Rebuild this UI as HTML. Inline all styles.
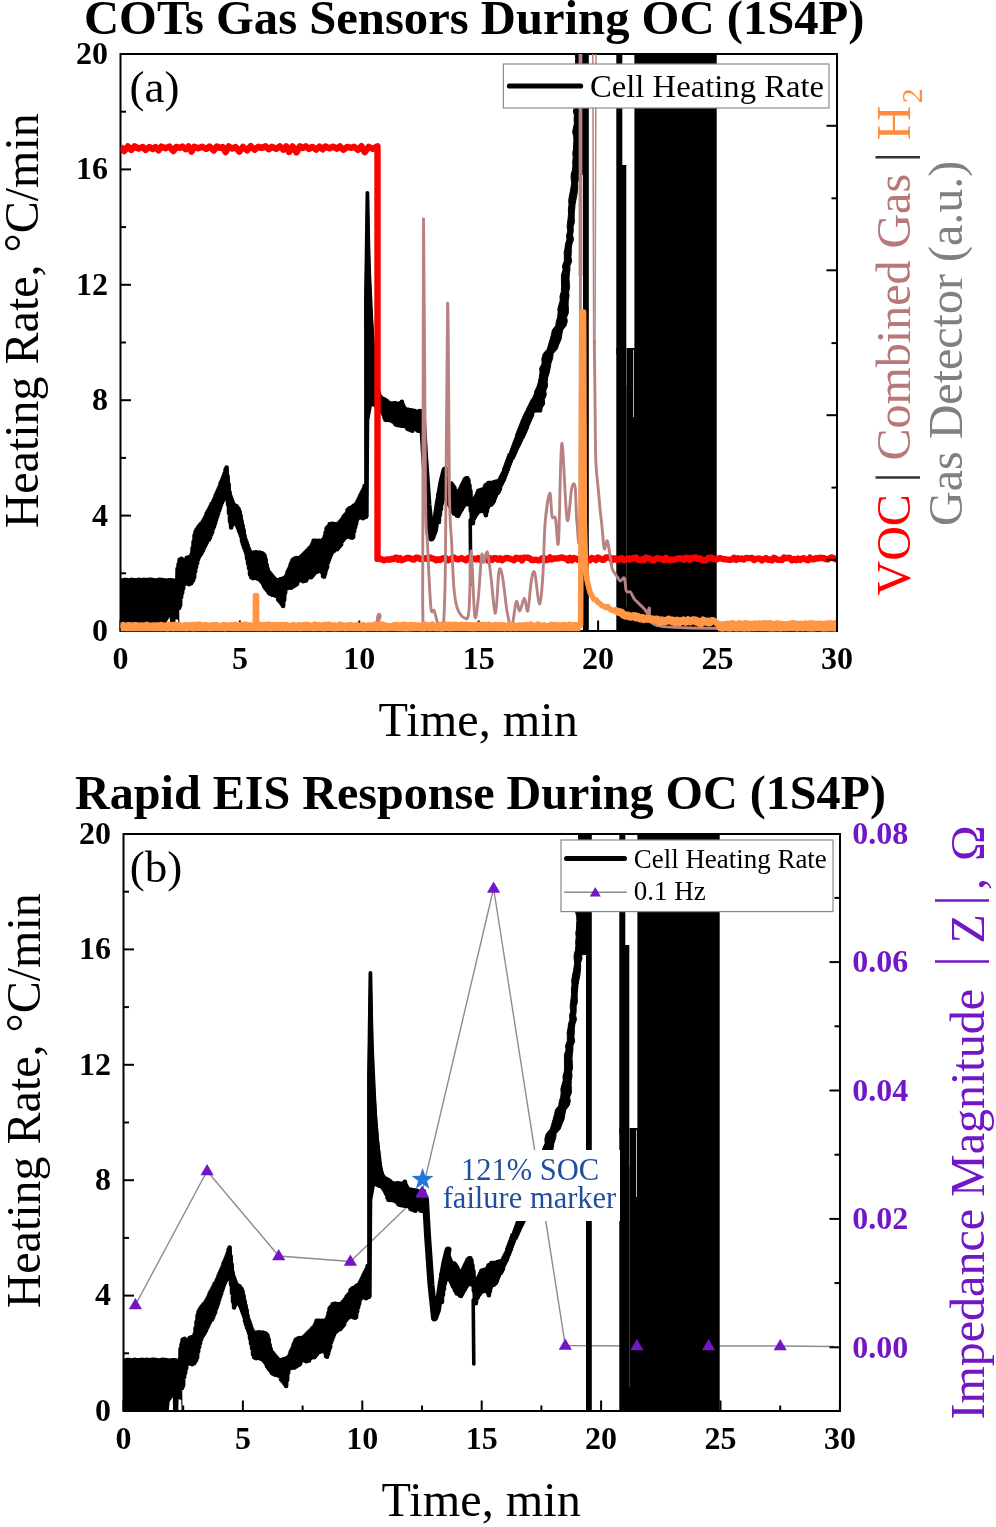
<!DOCTYPE html>
<html><head><meta charset="utf-8"><title>Gas sensors and EIS response during OC</title>
<style>
html,body{margin:0;padding:0;background:#fff;}
svg{display:block}
text{font-family:"Liberation Serif",serif;}
.tk{font-size:32px;font-weight:bold;}
.ti{font-size:48.4px;font-weight:bold;}
.al{font-size:48px;}
.pl{font-size:45px;}
.lg{}
.an{font-size:30.5px;fill:#1f4e9e;}
</style></head><body>
<svg width="996" height="1527" viewBox="0 0 996 1527">
<defs>
<clipPath id="ca"><rect x="120.5" y="54.0" width="716.5" height="577.4"/></clipPath>
<clipPath id="cb"><rect x="123.5" y="834.0" width="716.5" height="577.0"/></clipPath>
</defs>
<rect width="996" height="1527" fill="#fff"/>
<!-- panel a -->
<g clip-path="url(#ca)"><g transform="translate(0,0)" fill="#000"><polygon points="120.5,631.0 120.5,579.3 122.0,578.3 124.0,577.8 126.5,577.7 129.0,578.2 131.5,577.6 134.0,578.0 136.5,577.9 139.0,577.6 141.5,578.0 144.0,577.5 146.5,577.9 149.0,577.6 151.5,577.6 154.0,577.9 156.5,578.3 159.0,577.6 161.5,577.7 164.0,578.1 166.5,578.4 169.0,578.1 171.5,577.9 174.0,578.5 176.6,578.3 178.0,600.0 179.2,610.0 179.6,631.0 178.6,631.0 178.2,620.0 175.6,619.0 175.3,631.0 170.0,631.0 169.8,617.0 166.6,622.0 165.8,631.0"/>
<polygon points="176.6,581.7 177.6,568.7 178.6,564.3 179.6,559.9 180.6,559.4 181.6,558.9 182.6,561.2 183.6,560.7 184.6,560.4 185.6,560.0 186.6,558.1 187.6,557.7 188.6,557.3 189.6,557.6 190.6,559.7 191.6,554.3 192.6,548.0 193.6,541.7 194.6,535.3 195.6,531.7 196.6,529.7 197.6,528.3 198.6,526.9 199.6,525.5 200.6,524.2 201.6,523.8 202.6,522.1 203.6,520.3 204.6,518.5 205.6,516.6 206.6,513.8 207.6,511.9 208.6,510.3 209.6,508.4 210.6,506.2 211.6,503.9 212.6,503.3 213.6,500.9 214.6,498.6 215.6,495.9 216.6,493.6 217.6,491.3 218.6,489.0 219.6,486.7 220.6,483.2 221.6,481.2 222.6,478.9 223.6,476.3 224.6,473.5 225.6,469.6 226.6,467.6 227.6,476.4 228.6,484.4 229.6,492.3 230.6,496.6 231.6,499.3 232.6,502.1 233.6,504.4 234.6,505.4 235.6,506.4 236.6,506.3 237.6,507.7 238.6,509.1 239.6,511.5 240.6,515.8 241.6,521.1 242.6,525.6 243.6,530.1 244.6,535.7 245.6,539.9 246.6,542.2 247.6,545.3 248.6,548.3 249.6,550.9 250.6,552.9 251.6,552.7 252.6,552.7 253.6,553.1 254.6,553.5 255.6,552.2 256.6,552.6 257.6,552.9 258.6,553.3 259.6,552.6 260.6,553.0 261.6,553.3 262.6,553.6 263.6,554.3 264.6,555.7 265.6,559.3 266.6,564.8 267.6,568.9 268.6,571.7 269.6,572.9 270.6,574.1 271.6,575.3 272.6,576.5 273.6,577.6 274.6,578.8 275.6,579.8 276.6,580.7 277.6,580.5 278.6,580.2 279.6,579.7 280.6,579.2 281.6,579.3 282.6,578.8 283.6,578.4 284.6,578.4 285.6,577.1 286.6,575.4 287.6,572.1 288.6,570.1 289.6,568.1 290.6,564.9 291.6,562.5 292.6,560.0 293.6,559.2 294.6,558.7 295.6,558.3 296.6,558.0 297.6,558.8 298.6,558.4 299.6,558.2 300.6,557.1 301.6,556.3 302.6,555.3 303.6,554.3 304.6,553.2 305.6,552.2 306.6,551.2 307.6,550.5 308.6,549.4 309.6,548.0 310.6,547.6 311.6,545.8 312.6,543.6 313.6,540.8 314.6,540.7 315.6,540.8 316.6,541.0 317.6,541.2 318.6,540.9 319.6,541.1 320.6,541.6 321.6,541.8 322.6,540.0 323.6,540.0 324.6,536.7 325.6,532.7 326.6,528.6 327.6,527.3 328.6,526.9 329.6,524.4 330.6,524.2 331.6,523.9 332.6,523.7 333.6,524.9 334.6,524.6 335.6,524.4 336.6,524.3 337.6,524.5 338.6,523.5 339.6,522.4 340.6,521.2 341.6,520.0 342.6,518.9 343.6,516.8 344.6,515.5 345.6,514.5 346.6,513.6 347.6,510.1 348.6,509.3 349.6,508.4 350.6,508.4 351.6,507.5 352.6,506.7 353.6,505.8 354.6,505.9 355.6,504.9 356.6,503.4 357.6,501.4 358.6,499.4 359.6,497.4 360.6,495.1 361.6,493.1 362.6,491.1 363.6,489.2 364.6,486.0 364.6,516.9 363.6,517.5 362.6,518.1 361.6,516.1 360.6,516.7 359.6,517.4 358.6,517.4 357.6,517.5 356.6,519.8 355.6,524.0 354.6,527.5 353.6,531.8 352.6,537.0 351.6,537.7 350.6,537.1 349.6,537.2 348.6,536.8 347.6,536.3 346.6,536.8 345.6,536.5 344.6,537.7 343.6,538.8 342.6,540.0 341.6,541.2 340.6,544.4 339.6,545.6 338.6,546.8 337.6,547.9 336.6,549.1 335.6,548.3 334.6,549.5 333.6,550.6 332.6,551.5 331.6,552.2 330.6,554.5 329.6,556.9 328.6,559.6 327.6,562.2 326.6,567.3 325.6,570.0 324.6,573.7 323.6,576.7 322.6,576.2 321.6,572.1 320.6,571.4 319.6,570.7 318.6,570.1 317.6,569.4 316.6,571.8 315.6,571.8 314.6,572.4 313.6,573.8 312.6,574.9 311.6,576.1 310.6,577.3 309.6,575.3 308.6,576.7 307.6,577.6 306.6,578.0 305.6,580.5 304.6,580.8 303.6,581.0 302.6,581.3 301.6,579.6 300.6,579.9 299.6,580.1 298.6,580.4 297.6,580.6 296.6,583.8 295.6,584.4 294.6,585.1 293.6,585.7 292.6,586.4 291.6,587.0 290.6,587.7 289.6,586.7 288.6,587.3 287.6,588.0 286.6,586.3 285.6,587.0 284.6,593.0 283.6,600.3 282.6,606.0 281.6,604.2 280.6,603.0 279.6,601.8 278.6,600.6 277.6,599.5 276.6,596.4 275.6,596.0 274.6,595.5 273.6,594.9 272.6,594.3 271.6,594.7 270.6,594.2 269.6,593.6 268.6,592.9 267.6,591.8 266.6,590.3 265.6,588.9 264.6,587.6 263.6,586.3 262.6,583.6 261.6,582.3 260.6,581.0 259.6,579.9 258.6,578.9 257.6,578.7 256.6,578.4 255.6,578.0 254.6,577.5 253.6,577.1 252.6,578.2 251.6,577.8 250.6,576.9 249.6,574.5 248.6,568.3 247.6,563.7 246.6,558.4 245.6,553.0 244.6,550.0 243.6,547.8 242.6,544.6 241.6,541.4 240.6,536.3 239.6,533.4 238.6,531.0 237.6,528.0 236.6,525.8 235.6,523.5 234.6,522.4 233.6,521.8 232.6,523.8 231.6,525.0 230.6,527.4 229.6,521.7 228.6,513.1 227.6,504.4 226.6,495.7 225.6,494.4 224.6,497.1 223.6,498.5 222.6,500.1 221.6,502.1 220.6,504.7 219.6,507.7 218.6,510.7 217.6,513.7 216.6,516.7 215.6,519.7 214.6,523.3 213.6,526.2 212.6,528.8 211.6,532.5 210.6,534.8 209.6,537.1 208.6,539.5 207.6,539.1 206.6,541.7 205.6,543.8 204.6,545.8 203.6,547.7 202.6,550.1 201.6,552.0 200.6,553.8 199.6,555.2 198.6,556.6 197.6,559.5 196.6,563.1 195.6,567.1 194.6,571.8 193.6,577.4 192.6,580.3 191.6,581.6 190.6,583.3 189.6,583.7 188.6,584.2 187.6,582.7 186.6,583.1 185.6,583.5 184.6,582.7 183.6,583.7 182.6,588.6 181.6,592.9 180.6,597.1 179.6,605.6 178.6,607.9 177.6,601.7 176.6,599.6"/><polyline points="176.6,581.7 177.1,599.6 177.6,568.7 178.1,601.7 178.6,564.3 179.1,607.9 179.6,559.9 180.1,605.6 180.6,559.4 181.1,597.1 181.6,558.9 182.1,592.9 182.6,561.2 183.1,588.6 183.6,560.7 184.1,583.7 184.6,560.4 185.1,582.7 185.6,560.0 186.1,583.5 186.6,558.1 187.1,583.1 187.6,557.7 188.1,582.7 188.6,557.3 189.1,584.2 189.6,557.6 190.1,583.7 190.6,559.7 191.1,583.3 191.6,554.3 192.1,581.6 192.6,548.0 193.1,580.3 193.6,541.7 194.1,577.4 194.6,535.3 195.1,571.8 195.6,531.7 196.1,567.1 196.6,529.7 197.1,563.1 197.6,528.3 198.1,559.5 198.6,526.9 199.1,556.6 199.6,525.5 200.1,555.2 200.6,524.2 201.1,553.8 201.6,523.8 202.1,552.0 202.6,522.1 203.1,550.1 203.6,520.3 204.1,547.7 204.6,518.5 205.1,545.8 205.6,516.6 206.1,543.8 206.6,513.8 207.1,541.7 207.6,511.9 208.1,539.1 208.6,510.3 209.1,539.5 209.6,508.4 210.1,537.1 210.6,506.2 211.1,534.8 211.6,503.9 212.1,532.5 212.6,503.3 213.1,528.8 213.6,500.9 214.1,526.2 214.6,498.6 215.1,523.3 215.6,495.9 216.1,519.7 216.6,493.6 217.1,516.7 217.6,491.3 218.1,513.7 218.6,489.0 219.1,510.7 219.6,486.7 220.1,507.7 220.6,483.2 221.1,504.7 221.6,481.2 222.1,502.1 222.6,478.9 223.1,500.1 223.6,476.3 224.1,498.5 224.6,473.5 225.1,497.1 225.6,469.6 226.1,494.4 226.6,467.6 227.1,495.7 227.6,476.4 228.1,504.4 228.6,484.4 229.1,513.1 229.6,492.3 230.1,521.7 230.6,496.6 231.1,527.4 231.6,499.3 232.1,525.0 232.6,502.1 233.1,523.8 233.6,504.4 234.1,521.8 234.6,505.4 235.1,522.4 235.6,506.4 236.1,523.5 236.6,506.3 237.1,525.8 237.6,507.7 238.1,528.0 238.6,509.1 239.1,531.0 239.6,511.5 240.1,533.4 240.6,515.8 241.1,536.3 241.6,521.1 242.1,541.4 242.6,525.6 243.1,544.6 243.6,530.1 244.1,547.8 244.6,535.7 245.1,550.0 245.6,539.9 246.1,553.0 246.6,542.2 247.1,558.4 247.6,545.3 248.1,563.7 248.6,548.3 249.1,568.3 249.6,550.9 250.1,574.5 250.6,552.9 251.1,576.9 251.6,552.7 252.1,577.8 252.6,552.7 253.1,578.2 253.6,553.1 254.1,577.1 254.6,553.5 255.1,577.5 255.6,552.2 256.1,578.0 256.6,552.6 257.1,578.4 257.6,552.9 258.1,578.7 258.6,553.3 259.1,578.9 259.6,552.6 260.1,579.9 260.6,553.0 261.1,581.0 261.6,553.3 262.1,582.3 262.6,553.6 263.1,583.6 263.6,554.3 264.1,586.3 264.6,555.7 265.1,587.6 265.6,559.3 266.1,588.9 266.6,564.8 267.1,590.3 267.6,568.9 268.1,591.8 268.6,571.7 269.1,592.9 269.6,572.9 270.1,593.6 270.6,574.1 271.1,594.2 271.6,575.3 272.1,594.7 272.6,576.5 273.1,594.3 273.6,577.6 274.1,594.9 274.6,578.8 275.1,595.5 275.6,579.8 276.1,596.0 276.6,580.7 277.1,596.4 277.6,580.5 278.1,599.5 278.6,580.2 279.1,600.6 279.6,579.7 280.1,601.8 280.6,579.2 281.1,603.0 281.6,579.3 282.1,604.2 282.6,578.8 283.1,606.0 283.6,578.4 284.1,600.3 284.6,578.4 285.1,593.0 285.6,577.1 286.1,587.0 286.6,575.4 287.1,586.3 287.6,572.1 288.1,588.0 288.6,570.1 289.1,587.3 289.6,568.1 290.1,586.7 290.6,564.9 291.1,587.7 291.6,562.5 292.1,587.0 292.6,560.0 293.1,586.4 293.6,559.2 294.1,585.7 294.6,558.7 295.1,585.1 295.6,558.3 296.1,584.4 296.6,558.0 297.1,583.8 297.6,558.8 298.1,580.6 298.6,558.4 299.1,580.4 299.6,558.2 300.1,580.1 300.6,557.1 301.1,579.9 301.6,556.3 302.1,579.6 302.6,555.3 303.1,581.3 303.6,554.3 304.1,581.0 304.6,553.2 305.1,580.8 305.6,552.2 306.1,580.5 306.6,551.2 307.1,578.0 307.6,550.5 308.1,577.6 308.6,549.4 309.1,576.7 309.6,548.0 310.1,575.3 310.6,547.6 311.1,577.3 311.6,545.8 312.1,576.1 312.6,543.6 313.1,574.9 313.6,540.8 314.1,573.8 314.6,540.7 315.1,572.4 315.6,540.8 316.1,571.8 316.6,541.0 317.1,571.8 317.6,541.2 318.1,569.4 318.6,540.9 319.1,570.1 319.6,541.1 320.1,570.7 320.6,541.6 321.1,571.4 321.6,541.8 322.1,572.1 322.6,540.0 323.1,576.2 323.6,540.0 324.1,576.7 324.6,536.7 325.1,573.7 325.6,532.7 326.1,570.0 326.6,528.6 327.1,567.3 327.6,527.3 328.1,562.2 328.6,526.9 329.1,559.6 329.6,524.4 330.1,556.9 330.6,524.2 331.1,554.5 331.6,523.9 332.1,552.2 332.6,523.7 333.1,551.5 333.6,524.9 334.1,550.6 334.6,524.6 335.1,549.5 335.6,524.4 336.1,548.3 336.6,524.3 337.1,549.1 337.6,524.5 338.1,547.9 338.6,523.5 339.1,546.8 339.6,522.4 340.1,545.6 340.6,521.2 341.1,544.4 341.6,520.0 342.1,541.2 342.6,518.9 343.1,540.0 343.6,516.8 344.1,538.8 344.6,515.5 345.1,537.7 345.6,514.5 346.1,536.5 346.6,513.6 347.1,536.8 347.6,510.1 348.1,536.3 348.6,509.3 349.1,536.8 349.6,508.4 350.1,537.2 350.6,508.4 351.1,537.1 351.6,507.5 352.1,537.7 352.6,506.7 353.1,537.0 353.6,505.8 354.1,531.8 354.6,505.9 355.1,527.5 355.6,504.9 356.1,524.0 356.6,503.4 357.1,519.8 357.6,501.4 358.1,517.5 358.6,499.4 359.1,517.4 359.6,497.4 360.1,517.4 360.6,495.1 361.1,516.7 361.6,493.1 362.1,516.1 362.6,491.1 363.1,518.1 363.6,489.2 364.1,517.5 364.6,486.0 365.1,516.9" fill="none" stroke="#000" stroke-width="4.6" stroke-linejoin="round" stroke-linecap="round"/>
<polyline points="366.3,517 366.0,300 367.4,193 368.6,260 372.3,340 376.5,385 380,396" fill="none" stroke="#000" stroke-width="3.8" stroke-linejoin="round" stroke-linecap="round"/>
<polygon points="364.4,517 364.4,300 366.2,194 368.6,194 371.5,300 376,360 380,392 380,400 373,400 369.3,420 368.6,517"/>
<polygon points="371.9,392.0 372.9,392.7 373.9,393.3 374.9,393.9 375.9,394.5 376.9,395.2 377.9,395.3 378.9,396.0 379.9,396.7 380.9,397.4 381.9,398.2 382.9,398.9 383.9,399.2 384.9,399.9 385.9,400.5 386.9,401.0 387.9,402.2 388.9,402.7 389.9,403.2 390.9,403.7 391.9,404.1 392.9,404.5 393.9,403.2 394.9,403.4 395.9,403.6 396.9,403.7 397.9,403.9 398.9,404.0 399.9,404.0 400.9,403.0 401.9,401.9 402.9,405.0 403.9,407.0 404.9,408.5 405.9,409.6 406.9,409.9 407.9,409.8 408.9,410.0 409.9,410.3 410.9,410.5 411.9,410.6 412.9,410.8 413.9,410.9 414.9,411.5 415.9,411.7 416.9,411.9 417.9,412.1 418.9,412.2 419.9,411.1 420.9,411.3 420.9,429.9 419.9,430.7 418.9,430.6 417.9,430.6 416.9,430.5 415.9,428.8 414.9,428.8 413.9,428.7 412.9,428.6 411.9,430.6 410.9,430.4 409.9,429.9 408.9,429.5 407.9,429.1 406.9,428.7 405.9,426.5 404.9,426.2 403.9,425.9 402.9,425.8 401.9,425.7 400.9,425.6 399.9,425.5 398.9,425.3 397.9,425.2 396.9,424.8 395.9,424.6 394.9,424.1 393.9,422.5 392.9,421.1 391.9,421.1 390.9,420.3 389.9,420.0 388.9,420.3 387.9,419.6 386.9,419.8 385.9,420.0 384.9,419.8 383.9,417.4 382.9,414.2 381.9,412.1 380.9,410.2 379.9,408.8 378.9,407.3 377.9,406.0 376.9,405.5 375.9,405.8 374.9,405.2 373.9,404.6 372.9,404.1 371.9,403.6"/><polyline points="371.9,392.0 372.4,403.6 372.9,392.7 373.4,404.1 373.9,393.3 374.4,404.6 374.9,393.9 375.4,405.2 375.9,394.5 376.4,405.8 376.9,395.2 377.4,405.5 377.9,395.3 378.4,406.0 378.9,396.0 379.4,407.3 379.9,396.7 380.4,408.8 380.9,397.4 381.4,410.2 381.9,398.2 382.4,412.1 382.9,398.9 383.4,414.2 383.9,399.2 384.4,417.4 384.9,399.9 385.4,419.8 385.9,400.5 386.4,420.0 386.9,401.0 387.4,419.8 387.9,402.2 388.4,419.6 388.9,402.7 389.4,420.3 389.9,403.2 390.4,420.0 390.9,403.7 391.4,420.3 391.9,404.1 392.4,421.1 392.9,404.5 393.4,421.1 393.9,403.2 394.4,422.5 394.9,403.4 395.4,424.1 395.9,403.6 396.4,424.6 396.9,403.7 397.4,424.8 397.9,403.9 398.4,425.2 398.9,404.0 399.4,425.3 399.9,404.0 400.4,425.5 400.9,403.0 401.4,425.6 401.9,401.9 402.4,425.7 402.9,405.0 403.4,425.8 403.9,407.0 404.4,425.9 404.9,408.5 405.4,426.2 405.9,409.6 406.4,426.5 406.9,409.9 407.4,428.7 407.9,409.8 408.4,429.1 408.9,410.0 409.4,429.5 409.9,410.3 410.4,429.9 410.9,410.5 411.4,430.4 411.9,410.6 412.4,430.6 412.9,410.8 413.4,428.6 413.9,410.9 414.4,428.7 414.9,411.5 415.4,428.8 415.9,411.7 416.4,428.8 416.9,411.9 417.4,430.5 417.9,412.1 418.4,430.6 418.9,412.2 419.4,430.6 419.9,411.1 420.4,430.7 420.9,411.3 421.4,429.9" fill="none" stroke="#000" stroke-width="4.6" stroke-linejoin="round" stroke-linecap="round"/>
<polyline points="422.5,420 424.5,455 428,505 431.5,538 434.5,530 438,505 442,482 445,470" fill="none" stroke="#000" stroke-width="7" stroke-linejoin="round" stroke-linecap="round"/>
<polygon points="438.4,494.5 439.4,492.1 440.4,488.2 441.4,483.1 442.4,479.7 443.4,477.3 444.4,475.0 445.4,473.3 446.4,477.7 447.4,480.4 448.4,482.2 449.4,483.8 450.4,484.8 451.4,483.6 452.4,484.8 453.4,486.2 454.4,487.9 455.4,490.9 456.4,491.8 457.4,492.7 458.4,491.7 459.4,490.4 460.4,488.5 461.4,486.4 462.4,484.4 463.4,482.4 464.4,480.0 465.4,478.8 466.4,478.3 467.4,478.3 468.4,480.3 469.4,485.3 470.4,491.0 471.4,503.1 472.4,502.6 473.4,500.6 474.4,499.1 475.4,497.4 476.4,495.5 477.4,493.1 478.4,490.9 479.4,490.7 480.4,490.2 481.4,489.9 482.4,489.9 483.4,489.7 484.4,488.0 485.4,485.5 486.4,484.9 487.4,484.8 488.4,483.0 489.4,483.0 490.4,483.0 491.4,483.0 492.4,483.0 493.4,482.6 494.4,482.2 495.4,481.7 496.4,482.0 497.4,482.0 498.4,481.1 499.4,480.2 500.4,478.2 501.4,476.2 502.4,474.3 503.4,472.6 504.4,468.9 505.4,466.3 506.4,463.6 507.4,460.8 508.4,458.1 509.4,455.3 510.4,454.7 511.4,451.9 512.4,449.1 513.4,446.4 514.4,443.5 515.4,441.0 516.4,438.5 517.4,434.9 518.4,432.4 519.4,429.9 520.4,427.4 521.4,424.8 522.4,422.0 523.4,419.7 524.4,417.6 525.4,415.4 526.4,413.3 527.4,411.5 528.4,409.4 529.4,407.2 530.4,405.3 531.4,403.2 532.4,401.1 533.4,400.1 534.4,398.0 535.4,395.9 536.4,391.9 537.4,389.8 538.4,387.7 539.4,384.8 540.4,381.9 540.4,396.4 539.4,397.7 538.4,399.5 537.4,401.6 536.4,403.2 535.4,405.3 534.4,407.4 533.4,409.6 532.4,411.7 531.4,415.4 530.4,417.6 529.4,419.8 528.4,422.1 527.4,424.3 526.4,427.4 525.4,429.6 524.4,431.9 523.4,434.1 522.4,436.4 521.4,437.8 520.4,440.1 519.4,442.3 518.4,444.6 517.4,446.4 516.4,448.7 515.4,450.9 514.4,453.2 513.4,455.3 512.4,457.6 511.4,458.7 510.4,461.2 509.4,463.7 508.4,466.2 507.4,469.3 506.4,471.8 505.4,474.3 504.4,477.0 503.4,479.6 502.4,481.4 501.4,483.4 500.4,485.4 499.4,489.1 498.4,491.1 497.4,493.0 496.4,493.4 495.4,495.6 494.4,498.0 493.4,500.9 492.4,502.6 491.4,503.7 490.4,504.6 489.4,504.9 488.4,505.0 487.4,507.1 486.4,511.2 485.4,515.3 484.4,512.6 483.4,510.4 482.4,509.9 481.4,510.5 480.4,510.9 479.4,511.2 478.4,511.2 477.4,512.2 476.4,513.7 475.4,515.0 474.4,516.9 473.4,518.7 472.4,523.2 471.4,519.2 470.4,510.9 469.4,504.2 468.4,503.6 467.4,504.1 466.4,503.5 465.4,504.3 464.4,504.1 463.4,505.6 462.4,507.1 461.4,509.2 460.4,510.8 459.4,512.4 458.4,514.4 457.4,516.0 456.4,515.4 455.4,514.3 454.4,513.3 453.4,513.5 452.4,511.8 451.4,510.3 450.4,507.8 449.4,506.1 448.4,504.0 447.4,501.8 446.4,499.8 445.4,498.2 444.4,497.3 443.4,498.3 442.4,500.0 441.4,503.5 440.4,509.2 439.4,514.9 438.4,521.9"/><polyline points="438.4,494.5 438.9,521.9 439.4,492.1 439.9,514.9 440.4,488.2 440.9,509.2 441.4,483.1 441.9,503.5 442.4,479.7 442.9,500.0 443.4,477.3 443.9,498.3 444.4,475.0 444.9,497.3 445.4,473.3 445.9,498.2 446.4,477.7 446.9,499.8 447.4,480.4 447.9,501.8 448.4,482.2 448.9,504.0 449.4,483.8 449.9,506.1 450.4,484.8 450.9,507.8 451.4,483.6 451.9,510.3 452.4,484.8 452.9,511.8 453.4,486.2 453.9,513.5 454.4,487.9 454.9,513.3 455.4,490.9 455.9,514.3 456.4,491.8 456.9,515.4 457.4,492.7 457.9,516.0 458.4,491.7 458.9,514.4 459.4,490.4 459.9,512.4 460.4,488.5 460.9,510.8 461.4,486.4 461.9,509.2 462.4,484.4 462.9,507.1 463.4,482.4 463.9,505.6 464.4,480.0 464.9,504.1 465.4,478.8 465.9,504.3 466.4,478.3 466.9,503.5 467.4,478.3 467.9,504.1 468.4,480.3 468.9,503.6 469.4,485.3 469.9,504.2 470.4,491.0 470.9,510.9 471.4,503.1 471.9,519.2 472.4,502.6 472.9,523.2 473.4,500.6 473.9,518.7 474.4,499.1 474.9,516.9 475.4,497.4 475.9,515.0 476.4,495.5 476.9,513.7 477.4,493.1 477.9,512.2 478.4,490.9 478.9,511.2 479.4,490.7 479.9,511.2 480.4,490.2 480.9,510.9 481.4,489.9 481.9,510.5 482.4,489.9 482.9,509.9 483.4,489.7 483.9,510.4 484.4,488.0 484.9,512.6 485.4,485.5 485.9,515.3 486.4,484.9 486.9,511.2 487.4,484.8 487.9,507.1 488.4,483.0 488.9,505.0 489.4,483.0 489.9,504.9 490.4,483.0 490.9,504.6 491.4,483.0 491.9,503.7 492.4,483.0 492.9,502.6 493.4,482.6 493.9,500.9 494.4,482.2 494.9,498.0 495.4,481.7 495.9,495.6 496.4,482.0 496.9,493.4 497.4,482.0 497.9,493.0 498.4,481.1 498.9,491.1 499.4,480.2 499.9,489.1 500.4,478.2 500.9,485.4 501.4,476.2 501.9,483.4 502.4,474.3 502.9,481.4 503.4,472.6 503.9,479.6 504.4,468.9 504.9,477.0 505.4,466.3 505.9,474.3 506.4,463.6 506.9,471.8 507.4,460.8 507.9,469.3 508.4,458.1 508.9,466.2 509.4,455.3 509.9,463.7 510.4,454.7 510.9,461.2 511.4,451.9 511.9,458.7 512.4,449.1 512.9,457.6 513.4,446.4 513.9,455.3 514.4,443.5 514.9,453.2 515.4,441.0 515.9,450.9 516.4,438.5 516.9,448.7 517.4,434.9 517.9,446.4 518.4,432.4 518.9,444.6 519.4,429.9 519.9,442.3 520.4,427.4 520.9,440.1 521.4,424.8 521.9,437.8 522.4,422.0 522.9,436.4 523.4,419.7 523.9,434.1 524.4,417.6 524.9,431.9 525.4,415.4 525.9,429.6 526.4,413.3 526.9,427.4 527.4,411.5 527.9,424.3 528.4,409.4 528.9,422.1 529.4,407.2 529.9,419.8 530.4,405.3 530.9,417.6 531.4,403.2 531.9,415.4 532.4,401.1 532.9,411.7 533.4,400.1 533.9,409.6 534.4,398.0 534.9,407.4 535.4,395.9 535.9,405.3 536.4,391.9 536.9,403.2 537.4,389.8 537.9,401.6 538.4,387.7 538.9,399.5 539.4,384.8 539.9,397.7 540.4,381.9 540.9,396.4" fill="none" stroke="#000" stroke-width="4.6" stroke-linejoin="round" stroke-linecap="round"/>
<polyline points="470.2,520 470.8,584" fill="none" stroke="#000" stroke-width="3.6" stroke-linecap="round"/>
<polygon points="531.7,412.0 532.3,408.0 535.3,404.0 535.5,399.6 535.1,395.1 536.4,390.6 538.0,386.2 538.5,381.8 539.3,377.3 540.0,372.8 539.7,368.4 542.1,363.4 541.9,358.5 543.4,353.5 547.4,349.0 548.7,344.2 550.1,339.5 551.4,334.8 552.4,330.0 555.8,325.5 556.3,321.3 557.7,317.2 558.1,313.0 557.9,308.8 559.0,304.7 560.2,300.5 560.0,296.1 561.3,291.8 561.5,287.4 561.5,283.1 561.4,278.8 561.5,274.4 563.1,270.0 562.5,265.7 564.2,261.4 564.4,257.0 564.1,252.7 565.0,248.3 565.5,244.0 566.9,239.6 566.6,235.2 567.8,230.9 567.1,226.5 567.6,222.2 568.2,217.8 568.5,213.5 568.4,209.1 569.0,204.8 568.7,200.4 569.4,196.1 570.3,191.8 571.0,187.4 571.7,183.1 571.1,178.7 571.2,174.3 572.5,170.0 572.9,165.8 572.7,161.6 573.2,157.4 572.8,153.1 573.5,148.9 573.6,144.7 573.9,140.5 573.7,136.3 572.6,132.1 573.4,127.9 574.4,123.6 574.1,119.4 574.4,115.2 573.3,111.0 574.8,106.9 574.5,102.9 573.8,98.8 574.3,94.7 574.5,90.6 574.5,86.6 576.1,82.5 575.1,78.4 575.8,74.4 575.8,70.3 575.0,66.2 575.5,62.1 575.7,58.1 575.3,54.0 582.0,54.0 582.8,58.1 583.0,62.1 581.7,66.2 582.5,70.3 582.6,74.4 581.9,78.4 581.8,82.5 582.1,86.6 581.9,90.6 580.6,94.7 581.7,98.8 581.4,102.9 580.9,106.9 581.3,111.0 580.6,115.2 580.7,119.4 580.5,123.6 579.5,127.9 579.4,132.1 579.5,136.3 580.1,140.5 579.8,144.7 580.1,148.9 579.4,153.1 578.6,157.4 579.5,161.6 579.6,165.8 578.0,170.0 578.8,174.3 578.9,178.7 577.5,183.1 577.7,187.4 577.3,191.8 576.7,196.1 575.8,200.4 575.0,204.8 574.7,209.1 574.2,213.5 574.2,217.8 574.4,222.2 573.1,226.5 573.2,230.9 572.6,235.2 573.5,239.6 571.9,244.0 571.3,248.3 571.3,252.7 570.9,257.0 571.7,261.4 569.9,265.7 569.9,270.0 569.3,274.4 569.0,278.8 569.3,283.1 569.6,287.4 568.7,291.8 569.0,296.1 568.3,300.5 568.1,304.7 568.4,308.8 568.3,313.0 566.6,317.2 567.3,321.3 566.1,325.5 562.7,330.0 561.8,334.8 561.0,339.5 558.9,344.2 557.2,349.0 553.2,353.5 552.6,358.5 550.9,363.4 550.1,368.4 549.2,372.8 547.8,377.3 547.2,381.8 547.5,386.2 545.8,390.6 546.2,395.1 544.4,399.6 544.6,404.0 542.1,408.0 541.6,412.0" stroke="#000" stroke-width="1" stroke-linejoin="round"/>
<polygon points="576.6,54 588,54 588,175 577.6,175 576.2,130"/>
<rect x="583" y="54" width="5.8" height="577"/>
<rect x="616.3" y="54" width="6" height="300"/>
<rect x="621" y="165" width="5.3" height="190"/>
<rect x="634.4" y="54" width="82.3" height="577"/>
<rect x="616.3" y="348" width="20" height="283"/>
<rect x="633.0" y="350" width="1.0" height="67" fill="#b0b0b0"/>
<rect x="626.0" y="348" width="0.8" height="38" fill="#7a7a7a"/>
<rect x="626.0" y="386" width="0.8" height="221" fill="#484848"/></g></g>
<rect x="120.5" y="54.0" width="716.5" height="577.0" fill="none" stroke="#000" stroke-width="2"/>
<line x1="120.5" y1="631.0" x2="131.0" y2="631.0" stroke="#000" stroke-width="2"/>
<line x1="120.5" y1="573.3" x2="126.0" y2="573.3" stroke="#000" stroke-width="2"/>
<line x1="120.5" y1="515.6" x2="131.0" y2="515.6" stroke="#000" stroke-width="2"/>
<line x1="120.5" y1="457.9" x2="126.0" y2="457.9" stroke="#000" stroke-width="2"/>
<line x1="120.5" y1="400.2" x2="131.0" y2="400.2" stroke="#000" stroke-width="2"/>
<line x1="120.5" y1="342.5" x2="126.0" y2="342.5" stroke="#000" stroke-width="2"/>
<line x1="120.5" y1="284.8" x2="131.0" y2="284.8" stroke="#000" stroke-width="2"/>
<line x1="120.5" y1="227.1" x2="126.0" y2="227.1" stroke="#000" stroke-width="2"/>
<line x1="120.5" y1="169.4" x2="131.0" y2="169.4" stroke="#000" stroke-width="2"/>
<line x1="120.5" y1="111.7" x2="126.0" y2="111.7" stroke="#000" stroke-width="2"/>
<line x1="120.5" y1="54.0" x2="131.0" y2="54.0" stroke="#000" stroke-width="2"/>
<line x1="120.5" y1="631.0" x2="120.5" y2="620.5" stroke="#000" stroke-width="2"/>
<line x1="180.2" y1="631.0" x2="180.2" y2="625.5" stroke="#000" stroke-width="2"/>
<line x1="239.9" y1="631.0" x2="239.9" y2="620.5" stroke="#000" stroke-width="2"/>
<line x1="299.6" y1="631.0" x2="299.6" y2="625.5" stroke="#000" stroke-width="2"/>
<line x1="359.3" y1="631.0" x2="359.3" y2="620.5" stroke="#000" stroke-width="2"/>
<line x1="419.0" y1="631.0" x2="419.0" y2="625.5" stroke="#000" stroke-width="2"/>
<line x1="478.7" y1="631.0" x2="478.7" y2="620.5" stroke="#000" stroke-width="2"/>
<line x1="538.4" y1="631.0" x2="538.4" y2="625.5" stroke="#000" stroke-width="2"/>
<line x1="598.1" y1="631.0" x2="598.1" y2="620.5" stroke="#000" stroke-width="2"/>
<line x1="657.8" y1="631.0" x2="657.8" y2="625.5" stroke="#000" stroke-width="2"/>
<line x1="717.5" y1="631.0" x2="717.5" y2="620.5" stroke="#000" stroke-width="2"/>
<line x1="777.2" y1="631.0" x2="777.2" y2="625.5" stroke="#000" stroke-width="2"/>
<line x1="836.9" y1="631.0" x2="836.9" y2="620.5" stroke="#000" stroke-width="2"/>
<g clip-path="url(#ca)">
<polyline points="120.5,146.4 124.2,151.0 127.9,146.4 131.3,149.9 134.6,146.3 138.7,148.6 142.8,146.9 145.5,149.9 149.4,147.0 152.7,149.0 155.6,147.0 158.6,150.4 161.4,146.6 165.5,148.3 169.4,146.6 173.4,151.0 176.4,146.9 179.8,147.8 182.4,146.6 185.7,149.1 188.5,146.5 191.6,151.6 194.2,146.8 198.2,148.3 202.3,146.8 206.3,149.1 209.5,146.5 213.7,150.5 216.9,146.5 219.9,147.9 222.7,146.9 225.7,152.1 228.7,146.4 232.2,148.6 235.4,147.0 239.4,151.5 243.0,146.9 247.1,150.3 250.8,146.2 254.6,149.8 258.4,146.7 261.5,147.9 265.6,146.3 268.9,149.3 272.0,146.8 276.2,148.9 279.8,146.4 283.3,149.6 286.2,146.3 289.1,152.0 292.5,146.4 296.5,152.4 299.9,146.3 302.8,148.1 305.9,146.3 308.9,148.9 312.4,146.9 316.2,149.6 319.5,146.6 322.7,149.3 325.4,146.4 329.5,148.3 332.9,146.7 336.9,148.7 339.9,146.4 343.2,149.8 347.3,146.9 351.3,147.8 354.0,146.8 358.0,149.9 361.5,146.2 364.8,152.1 368.7,146.9 372.8,148.9 377.5,146.3 377.5,558.9 378.0,557.9 380.0,559.0 382.0,559.4 384.0,560.2 386.0,559.6 388.0,559.3 390.0,559.7 392.0,558.8 394.0,559.1 396.0,557.5 398.0,559.7 400.0,558.1 402.0,560.2 404.0,559.3 406.0,558.3 408.0,557.8 410.0,558.2 412.0,559.3 414.0,559.5 416.0,557.7 418.0,557.6 420.0,559.0 422.0,559.1 424.0,558.6 426.0,558.1 428.0,559.2 430.0,557.4 432.0,558.3 434.0,558.8 436.0,560.3 438.0,559.3 440.0,560.1 442.0,558.8 444.0,558.1 446.0,558.1 448.0,560.3 450.0,559.5 452.0,558.3 454.0,557.5 456.0,558.9 458.0,559.4 460.0,558.7 462.0,558.2 464.0,559.4 466.0,560.2 468.0,558.1 470.0,557.5 472.0,558.4 474.0,558.7 476.0,559.4 478.0,558.0 480.0,559.8 482.0,559.6 484.0,558.9 486.0,558.0 488.0,560.3 490.0,558.3 492.0,559.9 494.0,558.1 496.0,558.1 498.0,559.7 500.0,558.3 502.0,560.3 504.0,558.9 506.0,558.0 508.0,558.1 510.0,558.7 512.0,559.4 514.0,560.2 516.0,557.8 518.0,558.6 520.0,558.0 522.0,560.3 524.0,557.8 526.0,557.6 528.0,557.6 530.0,558.6 532.0,560.1 534.0,560.1 536.0,559.6 538.0,560.4 540.0,560.2 542.0,558.4 544.0,558.0 546.0,560.2 548.0,559.6 550.0,557.5 552.0,559.4 554.0,558.5 556.0,558.5 558.0,558.4 560.0,557.9 562.0,557.4 564.0,558.2 566.0,558.5 568.0,560.3 570.0,557.8 572.0,560.3 574.0,558.0 576.0,558.5 578.0,559.9 580.0,559.9 582.0,558.7 584.0,557.5 586.0,558.8 588.0,558.5 590.0,560.2 592.0,558.0 594.0,558.5 596.0,560.1 598.0,557.5 600.0,558.6 602.0,559.8 604.0,559.7 606.0,557.5 608.0,557.5 610.0,557.6 612.0,560.2 614.0,558.2 616.0,559.6 618.0,560.1 620.0,558.4 622.0,558.2 624.0,560.3 626.0,559.3 628.0,558.2 630.0,559.5 632.0,558.3 634.0,558.2 636.0,557.4 638.0,559.7 640.0,560.1 642.0,559.3 644.0,560.2 646.0,557.5 648.0,558.1 650.0,558.8 652.0,560.3 654.0,560.3 656.0,558.6 658.0,558.2 660.0,558.7 662.0,558.9 664.0,560.2 666.0,557.9 668.0,559.8 670.0,559.6 672.0,559.9 674.0,559.7 676.0,559.2 678.0,558.4 680.0,558.4 682.0,558.5 684.0,559.7 686.0,557.6 688.0,558.0 690.0,559.7 692.0,558.1 694.0,557.6 696.0,557.5 698.0,559.1 700.0,558.4 702.0,560.3 704.0,560.1 706.0,560.4 708.0,558.2 710.0,557.7 712.0,557.7 714.0,558.9 716.0,559.5 718.0,558.7 720.0,558.1 722.0,558.7 724.0,559.3 726.0,559.4 728.0,559.6 730.0,559.9 732.0,559.4 734.0,557.8 736.0,559.9 738.0,558.3 740.0,559.1 742.0,558.5 744.0,559.6 746.0,558.0 748.0,558.1 750.0,558.1 752.0,557.9 754.0,560.1 756.0,559.1 758.0,558.4 760.0,558.6 762.0,560.4 764.0,558.9 766.0,558.1 768.0,559.8 770.0,559.4 772.0,560.4 774.0,557.7 776.0,558.8 778.0,559.9 780.0,559.9 782.0,560.1 784.0,557.5 786.0,558.3 788.0,557.8 790.0,558.0 792.0,560.3 794.0,559.1 796.0,560.2 798.0,558.5 800.0,560.0 802.0,558.7 804.0,558.2 806.0,559.7 808.0,560.2 810.0,557.7 812.0,559.2 814.0,559.3 816.0,558.1 818.0,558.5 820.0,557.8 822.0,558.0 824.0,558.2 826.0,559.2 828.0,559.4 830.0,558.0 832.0,557.4 834.0,558.4 836.0,559.4 837.0,558.9" fill="none" stroke="#ff0000" stroke-width="6.4" stroke-linejoin="round"/>
<rect x="578.6" y="54" width="3.8" height="222" fill="#a87878"/><rect x="579.8" y="276" width="1.6" height="36" fill="#e8d8d8"/><polyline points="592.8,50 593.7,345" fill="none" stroke="#b88282" stroke-width="1.5"/><polyline points="596.0,50 595.0,345" fill="none" stroke="#b88282" stroke-width="1.5"/>
<path d="M120.5,627.0 C163.1,627.0 333.3,627.0 376.0,627.0 C418.7,627.0 376.2,628.9 376.5,627.0 C376.9,625.1 377.3,617.5 377.9,615.6 C378.5,613.7 379.6,613.7 380.2,615.6 C380.9,617.5 374.9,625.1 381.6,627.0 C388.3,628.9 413.6,633.5 420.4,627.0 C427.3,620.5 422.2,655.8 422.7,587.9 C423.2,520.0 423.0,235.0 423.5,219.6 C424.0,204.2 424.9,441.8 425.5,495.5 C426.2,549.2 426.5,523.2 427.4,541.7 C428.2,560.1 429.7,594.8 430.8,606.3 C432.0,617.9 432.9,607.5 434.3,610.9 C435.6,614.4 437.4,624.3 438.9,627.0 C440.4,629.7 442.0,637.4 443.1,627.0 C444.1,616.6 444.6,618.6 445.4,564.8 C446.1,510.9 446.9,315.2 447.6,303.7 C448.3,292.2 448.9,455.8 449.5,495.5 C450.2,535.1 450.9,526.3 451.6,541.7 C452.3,557.1 453.0,576.7 453.9,587.9 C454.9,599.0 455.6,603.6 457.4,608.6 C459.1,613.6 462.4,617.5 464.3,617.9 C466.2,618.3 467.8,622.1 468.9,610.9 C470.1,599.8 470.3,550.1 471.2,550.9 C472.2,551.7 473.5,607.5 474.7,615.6 C475.9,623.6 477.0,609.4 478.2,599.4 C479.3,589.4 480.7,561.7 481.6,555.5 C482.6,549.4 483.0,563.0 483.9,562.4 C484.9,561.9 486.2,549.7 487.4,552.1 C488.6,554.4 489.5,566.1 490.9,576.3 C492.2,586.5 494.1,614.0 495.5,613.3 C496.8,612.5 497.8,577.8 498.9,571.7 C500.1,565.5 501.1,569.8 502.4,576.3 C503.8,582.8 505.5,602.5 507.0,610.9 C508.6,619.4 510.1,628.5 511.7,627.0 C513.2,625.5 514.9,604.4 516.3,601.7 C517.6,599.0 518.4,611.5 519.7,610.9 C521.1,610.4 523.0,598.2 524.4,598.2 C525.7,598.2 526.7,613.8 527.8,610.9 C529.0,608.1 530.1,587.3 531.3,580.9 C532.4,574.6 533.4,569.0 534.7,572.8 C536.1,576.7 538.0,603.4 539.4,604.0 C540.7,604.6 541.9,589.8 542.8,576.3 C543.8,562.8 544.0,537.0 545.1,523.2 C546.3,509.3 548.6,494.3 549.8,493.2 C550.9,492.0 551.1,512.0 552.1,516.3 C553.0,520.5 554.5,514.3 555.5,518.6 C556.6,522.8 557.5,554.2 558.5,541.7 C559.6,529.2 560.3,447.2 561.8,443.5 C563.2,439.9 565.4,512.2 567.1,519.7 C568.7,527.2 570.4,493.9 571.7,488.5 C573.0,483.2 574.3,481.6 575.2,487.4 C576.0,493.2 576.2,521.1 577.0,523.2 C577.8,525.3 579.4,580.5 580.0,500.0 C580.6,419.5 580.4,116.7 580.5,40.0" fill="none" stroke="#b88282" stroke-width="2.9" stroke-linejoin="round"/>
<path d="M594.3,340.0 C594.4,350.0 594.8,380.2 595.0,400.2 C595.3,420.3 595.3,445.8 595.8,460.5 C596.4,475.2 597.5,480.2 598.2,488.6 C599.0,497.0 599.6,504.0 600.2,510.7 C600.9,517.4 601.6,522.4 602.2,528.8 C602.9,535.1 603.4,546.8 604.3,548.8 C605.1,550.8 606.3,539.5 607.3,540.8 C608.3,542.1 609.4,552.2 610.3,556.9 C611.1,561.6 611.1,565.6 612.3,568.9 C613.5,572.3 616.0,574.9 617.3,576.9 C618.6,579.0 619.1,580.8 620.3,581.0 C621.5,581.1 623.3,576.3 624.3,578.0 C625.3,579.6 625.3,588.7 626.3,591.0 C627.3,593.3 629.0,590.7 630.4,592.0 C631.7,593.3 633.0,597.2 634.4,599.0 C635.7,600.9 636.7,601.4 638.4,603.1 C640.1,604.7 642.9,607.4 644.4,609.1 C645.9,610.7 646.6,613.3 647.4,613.1 C648.3,612.9 648.9,606.7 649.4,608.1 C649.9,609.4 648.6,618.1 650.4,621.1 C652.3,624.1 655.5,625.1 660.5,626.1 C665.5,627.2 671.2,627.2 680.6,627.6 C689.9,627.9 690.6,628.2 716.7,628.2 C742.8,628.1 817.0,627.2 837.0,627.0" fill="none" stroke="#b88282" stroke-width="2.9" stroke-linejoin="round"/>
<rect x="120.5" y="623.5" width="460" height="8" fill="#ff9646"/>
<rect x="718" y="624.5" width="119" height="7" fill="#ff9646"/>
<polyline points="120.5,626.9 121.7,626.4 122.9,625.4 124.1,626.8 125.3,626.2 126.5,627.3 127.7,627.8 128.9,626.3 130.1,626.7 131.3,627.3 132.5,626.2 133.7,625.6 134.9,627.2 136.1,627.7 137.3,627.4 138.5,627.1 139.7,627.6 140.9,627.1 142.1,627.0 143.3,626.4 144.5,625.9 145.7,626.9 146.9,625.2 148.1,626.2 149.3,627.4 150.5,627.2 151.7,626.9 152.9,625.7 154.1,626.3 155.3,626.4 156.5,626.9 157.7,626.2 158.9,627.1 160.1,627.9 161.3,625.5 162.5,627.0 163.7,627.4 164.9,626.1 166.1,626.5 167.3,628.0 168.5,625.0 169.7,626.6 170.9,625.4 172.1,627.4 173.3,627.9 174.5,626.6 175.7,625.2 176.9,626.7 178.1,626.6 179.3,627.2 180.5,626.5 181.7,626.9 182.9,627.6 184.1,626.6 185.3,626.2 186.5,627.9 187.7,625.6 188.9,627.1 190.1,626.2 191.3,627.3 192.5,625.3 193.7,628.1 194.9,626.0 196.1,625.1 197.3,625.8 198.5,626.2 199.7,624.9 200.9,626.2 202.1,626.2 203.3,627.1 204.5,626.0 205.7,625.7 206.9,625.6 208.1,627.3 209.3,627.9 210.5,626.6 211.7,625.6 212.9,627.5 214.1,626.2 215.3,625.6 216.5,625.3 217.7,627.4 218.9,627.5 220.1,626.9 221.3,626.4 222.5,626.7 223.7,625.6 224.9,628.0 226.1,626.0 227.3,626.9 228.5,627.5 229.7,627.5 230.9,626.4 232.1,625.8 233.3,626.7 234.5,625.3 235.7,627.6 236.9,626.0 238.1,627.6 239.3,625.8 240.5,626.1 241.7,625.7 242.9,626.3 244.1,625.5 245.3,624.9 246.5,627.2 247.7,625.8 248.9,625.7 250.1,625.9 251.3,626.4 252.5,626.3 253.7,626.9 254.9,627.0 256.1,626.1 257.3,627.9 258.5,627.6 259.7,625.1 260.9,627.5 262.1,627.8 263.3,627.4 264.5,625.3 265.7,627.6 266.9,626.9 268.1,624.9 269.3,624.9 270.5,627.9 271.7,627.0 272.9,625.7 274.1,625.2 275.3,625.4 276.5,625.6 277.7,627.4 278.9,626.0 280.1,625.4 281.3,627.8 282.5,627.4 283.7,625.4 284.9,627.8 286.1,626.8 287.3,627.4 288.5,627.0 289.7,627.8 290.9,627.4 292.1,627.6 293.3,625.5 294.5,627.1 295.7,626.6 296.9,627.3 298.1,626.3 299.3,627.7 300.5,626.7 301.7,625.7 302.9,625.6 304.1,625.3 305.3,626.5 306.5,625.1 307.7,626.4 308.9,625.4 310.1,626.5 311.3,626.5 312.5,626.6 313.7,627.7 314.9,624.9 316.1,627.6 317.3,626.4 318.5,626.7 319.7,627.0 320.9,627.6 322.1,626.1 323.3,626.2 324.5,628.0 325.7,625.1 326.9,626.9 328.1,626.9 329.3,625.0 330.5,626.9 331.7,627.1 332.9,627.9 334.1,626.0 335.3,628.0 336.5,626.5 337.7,626.5 338.9,627.8 340.1,625.0 341.3,627.2 342.5,626.9 343.7,626.0 344.9,627.7 346.1,626.1 347.3,626.4 348.5,626.6 349.7,627.4 350.9,625.6 352.1,626.3 353.3,626.3 354.5,626.7 355.7,627.5 356.9,625.8 358.1,627.5 359.3,626.2 360.5,626.5 361.7,625.8 362.9,626.5 364.1,628.0 365.3,627.0 366.5,627.4 367.7,626.0 368.9,625.9 370.1,625.9 371.3,626.8 372.5,626.9 373.7,627.4 374.9,625.0 376.1,627.2 377.3,627.7 378.5,626.6 379.7,625.1 380.9,625.9 382.1,624.9 383.3,625.5 384.5,627.8 385.7,626.8 386.9,627.0 388.1,627.4 389.3,627.8 390.5,626.9 391.7,626.9 392.9,626.9 394.1,627.1 395.3,626.8 396.5,627.1 397.7,625.6 398.9,627.0 400.1,626.4 401.3,627.3 402.5,625.2 403.7,625.5 404.9,625.0 406.1,627.4 407.3,627.8 408.5,627.0 409.7,626.1 410.9,627.5 412.1,627.4 413.3,626.7 414.5,625.7 415.7,625.9 416.9,626.2 418.1,625.9 419.3,626.3 420.5,627.0 421.7,627.9 422.9,625.1 424.1,626.7 425.3,625.0 426.5,625.3 427.7,627.5 428.9,626.7 430.1,627.8 431.3,626.3 432.5,624.9 433.7,626.1 434.9,626.8 436.1,627.9 437.3,628.0 438.5,626.4 439.7,626.2 440.9,625.2 442.1,627.0 443.3,625.6 444.5,625.4 445.7,624.9 446.9,624.9 448.1,627.1 449.3,625.3 450.5,628.0 451.7,625.2 452.9,627.7 454.1,625.3 455.3,625.0 456.5,627.2 457.7,625.7 458.9,627.2 460.1,625.5 461.3,625.1 462.5,627.4 463.7,627.2 464.9,627.6 466.1,627.2 467.3,625.2 468.5,626.9 469.7,627.2 470.9,626.4 472.1,627.9 473.3,625.7 474.5,628.0 475.7,627.2 476.9,624.9 478.1,624.9 479.3,627.0 480.5,627.5 481.7,625.2 482.9,625.9 484.1,627.2 485.3,625.4 486.5,627.7 487.7,626.5 488.9,625.1 490.1,626.1 491.3,626.7 492.5,626.3 493.7,627.1 494.9,625.4 496.1,627.5 497.3,626.1 498.5,627.0 499.7,626.9 500.9,626.2 502.1,626.1 503.3,627.4 504.5,627.9 505.7,627.4 506.9,626.7 508.1,625.8 509.3,625.1 510.5,628.0 511.7,627.2 512.9,627.5 514.1,626.0 515.3,626.8 516.5,628.0 517.7,627.6 518.9,626.8 520.1,625.9 521.3,626.3 522.5,627.7 523.7,626.1 524.9,627.1 526.1,626.8 527.3,627.8 528.5,627.5 529.7,625.8 530.9,624.9 532.1,625.7 533.3,626.3 534.5,626.8 535.7,627.5 536.9,627.7 538.1,625.0 539.3,627.6 540.5,627.5 541.7,627.7 542.9,626.7 544.1,625.8 545.3,627.6 546.5,627.5 547.7,627.1 548.9,627.8 550.1,626.0 551.3,625.2 552.5,626.7 553.7,627.5 554.9,625.5 556.1,627.3 557.3,627.9 558.5,625.6 559.7,626.8 560.9,627.1 562.1,626.4 563.3,625.6 564.5,625.7 565.7,627.3 566.9,627.4 568.1,626.4 569.3,625.2 570.5,627.5 571.7,627.4 572.9,625.6 574.1,626.8 575.3,627.8 576.5,627.7 577.7,626.6 578.9,626.4 580.0,626.5" fill="none" stroke="#ff9646" stroke-width="7" stroke-linejoin="round"/>
<polyline points="614.0,612.8 616.0,611.0 618.0,612.0 620.0,612.4 622.0,613.6 624.0,615.3 626.0,616.1 628.0,615.9 630.0,617.0 632.0,616.5 634.0,616.1 636.0,617.7 638.0,617.2 640.0,618.7 642.0,618.6 644.0,619.4 646.0,618.9 648.0,618.9 650.0,619.3 652.0,619.8 654.0,620.1 656.0,619.5 658.0,621.1 660.0,622.4 662.1,620.9 664.3,621.9 666.4,620.9 668.6,620.6 670.7,620.9 672.9,621.9 675.0,622.4 677.1,621.6 679.3,622.7 681.4,621.3 683.6,620.3 685.7,622.0 687.9,620.3 690.0,621.8 692.1,620.4 694.3,620.9 696.4,621.9 698.6,622.5 700.7,623.8 702.9,621.6 705.0,621.4 707.3,622.3 709.6,622.7 712.0,620.9 714.3,623.0" fill="none" stroke="#ff9646" stroke-width="7.5" stroke-linejoin="round"/><polyline points="719.0,625.2 720.2,626.2 721.4,626.5 722.6,627.5 723.8,626.5 725.0,625.7 726.2,625.8 727.4,624.9 728.6,627.5 729.8,627.6 731.0,625.1 732.2,624.5 733.4,625.2 734.6,625.5 735.8,627.3 737.0,627.3 738.2,627.1 739.4,624.6 740.6,626.9 741.8,626.7 743.0,626.5 744.2,627.6 745.4,624.6 746.6,624.9 747.8,626.8 749.0,627.4 750.2,626.6 751.4,625.4 752.6,626.3 753.8,626.8 755.0,624.7 756.2,625.4 757.4,625.2 758.6,624.8 759.8,625.9 761.0,624.9 762.2,625.2 763.4,624.9 764.6,626.6 765.8,624.4 767.0,626.7 768.2,625.0 769.4,624.5 770.6,627.4 771.8,625.1 773.0,627.4 774.2,627.2 775.4,627.2 776.6,624.8 777.8,625.8 779.0,624.7 780.2,627.4 781.4,627.1 782.6,626.4 783.8,625.8 785.0,625.5 786.2,627.0 787.4,625.9 788.6,626.4 789.8,624.9 791.0,625.1 792.2,624.6 793.4,626.7 794.6,626.2 795.8,624.9 797.0,627.2 798.2,625.3 799.4,625.7 800.6,624.9 801.8,625.3 803.0,627.1 804.2,625.5 805.4,624.9 806.6,626.0 807.8,625.4 809.0,627.3 810.2,624.8 811.4,627.5 812.6,624.6 813.8,627.3 815.0,626.5 816.2,625.1 817.4,625.9 818.6,625.3 819.8,625.2 821.0,625.0 822.2,625.6 823.4,627.6 824.6,627.6 825.8,627.4 827.0,624.7 828.2,625.3 829.4,627.3 830.6,624.6 831.8,626.7 833.0,625.3 834.2,627.5 835.4,624.5 836.6,627.0 837.0,626.0" fill="none" stroke="#ff9646" stroke-width="9" stroke-linejoin="round"/>
<polyline points="120.5,624.9 122.0,625.2 123.5,625.0 125.0,626.0 126.5,625.6 128.0,624.7 129.5,624.8 131.0,625.3 132.5,625.6 134.0,625.8 135.5,624.8 137.0,624.9 138.5,625.9 140.0,625.3 141.5,625.1 143.0,625.2 144.5,626.3 146.0,625.2 147.5,625.6 149.0,625.2 150.5,625.3 152.0,626.2 153.5,626.4 155.0,625.3 156.5,625.0 158.0,625.9 159.5,625.0 161.0,624.6 162.5,626.2 164.0,625.4 165.5,626.1 167.0,625.3 168.5,626.2 170.0,625.4 171.5,624.9 173.0,624.6 174.5,625.6 176.0,625.8 177.5,626.2 179.0,624.8 180.5,625.7 182.0,625.3 183.5,625.5 185.0,624.9 186.5,625.1 188.0,625.5 189.5,626.3 191.0,624.8 192.5,625.5 194.0,626.0 195.5,626.3 197.0,625.0 198.5,624.8 200.0,626.3 201.5,626.4 203.0,625.5 204.5,624.7 206.0,626.3 207.5,625.3 209.0,626.2 210.5,625.7 212.0,626.1 213.5,624.9 215.0,626.0 216.5,625.0 218.0,625.3 219.5,626.1 221.0,626.1 222.5,624.9 224.0,625.0 225.5,625.3 227.0,625.5 228.5,625.3 230.0,624.8 231.5,625.0 233.0,625.9 234.5,626.2 236.0,624.7 237.5,625.6 239.0,626.0 240.5,624.7 242.0,626.1 243.5,624.8 245.0,625.7 246.5,625.6 248.0,625.7 249.5,625.2 251.0,625.4 252.5,625.6 254.0,625.4 255.3,625.5 255.5,595.5 256.5,595.5 256.7,625.0 257.0,625.8 258.5,625.4 260.0,625.4 261.5,624.6 263.0,625.7 264.5,625.5 266.0,625.0 267.5,626.0 269.0,626.0 270.5,625.4 272.0,624.9 273.5,625.5 275.0,624.8 276.5,624.8 278.0,625.4 279.5,624.8 281.0,625.4 282.5,625.5 284.0,624.7 285.5,625.7 287.0,624.7 288.5,625.9 290.0,626.0 291.5,625.5 293.0,624.7 294.5,625.5 296.0,625.3 297.5,626.3 299.0,624.8 300.5,626.1 302.0,626.4 303.5,625.9 305.0,626.1 306.5,624.9 308.0,626.4 309.5,625.5 311.0,626.3 312.5,626.2 314.0,624.9 315.5,626.0 317.0,626.3 318.5,624.7 320.0,625.2 321.5,626.0 323.0,624.9 324.5,626.2 326.0,625.1 327.5,626.1 329.0,624.9 330.5,625.5 332.0,626.3 333.5,625.0 335.0,625.1 336.5,625.5 338.0,625.2 339.5,624.7 341.0,624.9 342.5,624.9 344.0,626.3 345.5,625.8 347.0,626.2 348.5,624.9 350.0,626.0 351.5,624.8 353.0,625.6 354.5,625.7 356.0,625.2 357.5,626.2 359.0,625.6 360.5,625.6 362.0,626.2 363.5,624.8 365.0,626.4 366.5,625.7 368.0,625.3 369.5,626.0 371.0,625.1 372.5,626.4 374.0,625.6 375.5,625.2 377.0,626.0 378.5,625.4 380.0,624.9 381.5,625.9 383.0,624.7 384.5,626.1 386.0,625.1 387.5,625.8 389.0,626.4 390.5,625.7 392.0,625.8 393.5,625.2 395.0,624.6 396.5,624.7 398.0,624.9 399.5,625.7 401.0,625.4 402.5,625.5 404.0,626.2 405.5,624.8 407.0,625.0 408.5,625.8 410.0,624.6 411.5,624.6 413.0,625.2 414.5,624.8 416.0,625.2 417.5,625.0 419.0,625.7 420.5,625.7 422.0,625.0 423.5,625.7 425.0,625.5 426.5,624.8 428.0,626.3 429.5,625.0 431.0,624.9 432.5,624.8 434.0,625.7 435.5,626.2 437.0,626.0 438.5,625.3 440.0,625.1 441.5,624.6 443.0,625.8 444.5,625.6 446.0,625.2 447.5,625.8 449.0,625.4 450.5,626.3 452.0,625.9 453.5,625.0 455.0,626.2 456.5,624.7 458.0,625.6 459.5,625.3 461.0,625.0 462.5,624.7 464.0,626.0 465.5,624.6 467.0,625.6 468.5,626.3 470.0,624.9 471.5,625.0 473.0,625.7 474.5,625.5 476.0,625.8 477.5,626.1 479.0,624.9 480.5,625.2 482.0,625.1 483.5,624.7 485.0,626.2 486.5,626.0 488.0,625.9 489.5,624.6 491.0,626.1 492.5,625.9 494.0,625.4 495.5,625.9 497.0,625.4 498.5,625.0 500.0,624.8 501.5,625.0 503.0,624.7 504.5,625.2 506.0,625.9 507.5,625.9 509.0,626.1 510.5,625.9 512.0,625.1 513.5,625.6 515.0,625.4 516.5,626.0 518.0,625.5 519.5,625.1 521.0,625.8 522.5,626.3 524.0,625.0 525.5,626.2 527.0,624.6 528.5,625.1 530.0,625.0 531.5,625.9 533.0,626.3 534.5,625.9 536.0,625.2 537.5,626.2 539.0,625.2 540.5,625.0 542.0,626.2 543.5,625.7 545.0,625.8 546.5,625.8 548.0,626.4 549.5,625.4 551.0,626.1 552.5,625.9 554.0,626.1 555.5,625.4 557.0,625.9 558.5,625.6 560.0,625.2 561.5,625.0 563.0,625.7 564.5,624.7 566.0,626.2 567.5,624.9 569.0,624.6 570.5,624.8 572.0,626.3 573.5,625.2 575.0,624.9 576.5,624.7 578.0,624.7 579.5,625.8 580.0,625.5 580.6,625.0 582.0,312.0 583.6,312.0 584.3,520.0 585.3,560.0 587.0,580.0 590.0,592.3 592.0,595.9 594.0,599.5 596.0,599.7 598.0,602.5 600.0,603.7 602.0,605.6 604.0,606.5 606.0,607.6 608.0,606.6 610.0,609.3 612.0,610.1 614.0,610.9 616.0,609.7 618.0,610.7 620.0,611.1 622.0,611.5 624.0,613.8 626.0,614.2 628.0,614.3 630.0,615.2 632.0,615.3 634.0,615.0 636.0,615.1 638.0,615.6 640.0,617.6 642.0,616.6 644.0,617.1 646.0,617.6 648.0,617.0 650.0,617.8 652.0,618.0 654.0,619.1 656.0,618.4 658.0,618.5 660.0,620.0 662.1,619.1 664.3,619.9 666.4,619.5 668.6,618.3 670.7,619.2 672.9,619.4 675.0,620.2 677.1,619.3 679.3,620.2 681.4,619.9 683.6,619.2 685.7,620.7 687.9,619.0 690.0,620.7 692.1,619.3 694.3,619.0 696.4,619.5 698.6,620.7 700.7,621.3 702.9,619.2 705.0,620.3 707.3,620.3 709.6,621.0 712.0,619.7 714.3,620.4 717.0,624.1 718.5,625.3 720.0,623.9 721.5,625.6 723.0,624.0 724.5,623.8 726.0,625.0 727.5,624.5 729.0,623.6 730.5,624.8 732.0,623.5 733.5,625.2 735.0,625.0 736.5,625.2 738.0,624.8 739.5,624.2 741.0,624.3 742.5,624.2 744.0,625.4 745.5,623.5 747.0,625.4 748.5,623.4 750.0,623.8 751.5,623.9 753.0,625.5 754.5,624.5 756.0,624.2 757.5,625.4 759.0,623.9 760.5,624.4 762.0,624.6 763.5,625.1 765.0,625.1 766.5,624.9 768.0,624.1 769.5,624.1 771.0,623.7 772.5,625.3 774.0,624.9 775.5,625.1 777.0,623.7 778.5,624.4 780.0,625.2 781.5,624.7 783.0,623.6 784.5,624.4 786.0,625.4 787.5,623.9 789.0,623.8 790.5,624.0 792.0,625.0 793.5,625.3 795.0,623.7 796.5,623.7 798.0,623.9 799.5,624.1 801.0,624.6 802.5,623.7 804.0,624.1 805.5,623.8 807.0,625.6 808.5,625.0 810.0,623.5 811.5,625.6 813.0,623.5 814.5,624.2 816.0,625.7 817.5,625.2 819.0,625.1 820.5,624.3 822.0,623.8 823.5,624.8 825.0,623.6 826.5,623.8 828.0,624.2 829.5,623.4 831.0,624.3 832.5,625.2 834.0,625.0 835.5,624.5 837.0,624.5" fill="none" stroke="#ff9646" stroke-width="5.6" stroke-linejoin="round"/>
</g>
<line x1="837.0" y1="53.0" x2="837.0" y2="632.0" stroke="#000" stroke-width="2"/>
<line x1="837.0" y1="125.8" x2="826.5" y2="125.8" stroke="#000" stroke-width="2"/>
<line x1="837.0" y1="198.3" x2="831.5" y2="198.3" stroke="#000" stroke-width="2"/>
<line x1="837.0" y1="270.3" x2="826.5" y2="270.3" stroke="#000" stroke-width="2"/>
<line x1="837.0" y1="343.1" x2="831.5" y2="343.1" stroke="#000" stroke-width="2"/>
<line x1="837.0" y1="415.2" x2="826.5" y2="415.2" stroke="#000" stroke-width="2"/>
<line x1="837.0" y1="487.6" x2="831.5" y2="487.6" stroke="#000" stroke-width="2"/>
<line x1="837.0" y1="559.7" x2="826.5" y2="559.7" stroke="#000" stroke-width="2"/>
<text x="108.0" y="641.0" text-anchor="end" class="tk">0</text>
<text x="108.0" y="525.6" text-anchor="end" class="tk">4</text>
<text x="108.0" y="410.2" text-anchor="end" class="tk">8</text>
<text x="108.0" y="294.8" text-anchor="end" class="tk">12</text>
<text x="108.0" y="179.4" text-anchor="end" class="tk">16</text>
<text x="108.0" y="64.0" text-anchor="end" class="tk">20</text>
<text x="120.5" y="669.2" text-anchor="middle" class="tk">0</text>
<text x="239.9" y="669.2" text-anchor="middle" class="tk">5</text>
<text x="359.3" y="669.2" text-anchor="middle" class="tk">10</text>
<text x="478.7" y="669.2" text-anchor="middle" class="tk">15</text>
<text x="598.1" y="669.2" text-anchor="middle" class="tk">20</text>
<text x="717.5" y="669.2" text-anchor="middle" class="tk">25</text>
<text x="836.9" y="669.2" text-anchor="middle" class="tk">30</text>
<text x="84" y="34.2" class="ti" textLength="780.5" lengthAdjust="spacingAndGlyphs">COTs Gas Sensors During OC (1S4P)</text>
<text x="129.5" y="102" class="pl">(a)</text>
<text transform="translate(37.7,320.8) rotate(-90)" text-anchor="middle" class="al">Heating Rate, °C/min</text>
<text x="378.6" y="735.7" class="al" textLength="199.2" lengthAdjust="spacingAndGlyphs">Time, min</text>
<text transform="translate(909.5,595.5) rotate(-90)" class="al"><tspan fill="#ff0000">VOC</tspan><tspan fill="#333"> | </tspan><tspan fill="#b87878">Combined Gas</tspan><tspan fill="#333"> | </tspan><tspan fill="#ff8c3c">H</tspan><tspan fill="#ff8c3c" font-size="30" dy="12" dx="2.5">2</tspan></text>
<text transform="translate(962,343.4) rotate(-90)" text-anchor="middle" class="al" fill="#808080">Gas Detector (a.u.)</text>
<!-- legend a -->
<rect x="503.4" y="64" width="325.6" height="44" fill="#fff" stroke="#8a8a8a" stroke-width="1.2"/>
<line x1="509.5" y1="86" x2="580.6" y2="86" stroke="#000" stroke-width="5.2" stroke-linecap="round"/>
<text x="590" y="96.6" class="lg" font-size="32.4" textLength="234" lengthAdjust="spacingAndGlyphs">Cell Heating Rate</text>

<!-- panel b -->
<g clip-path="url(#cb)"><polyline points="135.4,1305.0 207.1,1171.0 278.7,1256.0 350.4,1261.5 422.0,1192.5 493.6,888.5 565.3,1345.5 636.9,1346.0 708.6,1346.0 780.2,1346.0 834.0,1346.5" fill="none" stroke="#8c8c8c" stroke-width="1.4"/></g>
<g clip-path="url(#cb)"><g transform="translate(3.0,780.0)" fill="#000"><polygon points="120.5,631.0 120.5,579.3 122.0,578.3 124.0,577.8 126.5,577.7 129.0,578.2 131.5,577.6 134.0,578.0 136.5,577.9 139.0,577.6 141.5,578.0 144.0,577.5 146.5,577.9 149.0,577.6 151.5,577.6 154.0,577.9 156.5,578.3 159.0,577.6 161.5,577.7 164.0,578.1 166.5,578.4 169.0,578.1 171.5,577.9 174.0,578.5 176.6,578.3 178.0,600.0 179.2,610.0 179.6,631.0 178.6,631.0 178.2,620.0 175.6,619.0 175.3,631.0 170.0,631.0 169.8,617.0 166.6,622.0 165.8,631.0"/>
<polygon points="176.6,581.7 177.6,568.7 178.6,564.3 179.6,559.9 180.6,559.4 181.6,558.9 182.6,561.2 183.6,560.7 184.6,560.4 185.6,560.0 186.6,558.1 187.6,557.7 188.6,557.3 189.6,557.6 190.6,559.7 191.6,554.3 192.6,548.0 193.6,541.7 194.6,535.3 195.6,531.7 196.6,529.7 197.6,528.3 198.6,526.9 199.6,525.5 200.6,524.2 201.6,523.8 202.6,522.1 203.6,520.3 204.6,518.5 205.6,516.6 206.6,513.8 207.6,511.9 208.6,510.3 209.6,508.4 210.6,506.2 211.6,503.9 212.6,503.3 213.6,500.9 214.6,498.6 215.6,495.9 216.6,493.6 217.6,491.3 218.6,489.0 219.6,486.7 220.6,483.2 221.6,481.2 222.6,478.9 223.6,476.3 224.6,473.5 225.6,469.6 226.6,467.6 227.6,476.4 228.6,484.4 229.6,492.3 230.6,496.6 231.6,499.3 232.6,502.1 233.6,504.4 234.6,505.4 235.6,506.4 236.6,506.3 237.6,507.7 238.6,509.1 239.6,511.5 240.6,515.8 241.6,521.1 242.6,525.6 243.6,530.1 244.6,535.7 245.6,539.9 246.6,542.2 247.6,545.3 248.6,548.3 249.6,550.9 250.6,552.9 251.6,552.7 252.6,552.7 253.6,553.1 254.6,553.5 255.6,552.2 256.6,552.6 257.6,552.9 258.6,553.3 259.6,552.6 260.6,553.0 261.6,553.3 262.6,553.6 263.6,554.3 264.6,555.7 265.6,559.3 266.6,564.8 267.6,568.9 268.6,571.7 269.6,572.9 270.6,574.1 271.6,575.3 272.6,576.5 273.6,577.6 274.6,578.8 275.6,579.8 276.6,580.7 277.6,580.5 278.6,580.2 279.6,579.7 280.6,579.2 281.6,579.3 282.6,578.8 283.6,578.4 284.6,578.4 285.6,577.1 286.6,575.4 287.6,572.1 288.6,570.1 289.6,568.1 290.6,564.9 291.6,562.5 292.6,560.0 293.6,559.2 294.6,558.7 295.6,558.3 296.6,558.0 297.6,558.8 298.6,558.4 299.6,558.2 300.6,557.1 301.6,556.3 302.6,555.3 303.6,554.3 304.6,553.2 305.6,552.2 306.6,551.2 307.6,550.5 308.6,549.4 309.6,548.0 310.6,547.6 311.6,545.8 312.6,543.6 313.6,540.8 314.6,540.7 315.6,540.8 316.6,541.0 317.6,541.2 318.6,540.9 319.6,541.1 320.6,541.6 321.6,541.8 322.6,540.0 323.6,540.0 324.6,536.7 325.6,532.7 326.6,528.6 327.6,527.3 328.6,526.9 329.6,524.4 330.6,524.2 331.6,523.9 332.6,523.7 333.6,524.9 334.6,524.6 335.6,524.4 336.6,524.3 337.6,524.5 338.6,523.5 339.6,522.4 340.6,521.2 341.6,520.0 342.6,518.9 343.6,516.8 344.6,515.5 345.6,514.5 346.6,513.6 347.6,510.1 348.6,509.3 349.6,508.4 350.6,508.4 351.6,507.5 352.6,506.7 353.6,505.8 354.6,505.9 355.6,504.9 356.6,503.4 357.6,501.4 358.6,499.4 359.6,497.4 360.6,495.1 361.6,493.1 362.6,491.1 363.6,489.2 364.6,486.0 364.6,516.9 363.6,517.5 362.6,518.1 361.6,516.1 360.6,516.7 359.6,517.4 358.6,517.4 357.6,517.5 356.6,519.8 355.6,524.0 354.6,527.5 353.6,531.8 352.6,537.0 351.6,537.7 350.6,537.1 349.6,537.2 348.6,536.8 347.6,536.3 346.6,536.8 345.6,536.5 344.6,537.7 343.6,538.8 342.6,540.0 341.6,541.2 340.6,544.4 339.6,545.6 338.6,546.8 337.6,547.9 336.6,549.1 335.6,548.3 334.6,549.5 333.6,550.6 332.6,551.5 331.6,552.2 330.6,554.5 329.6,556.9 328.6,559.6 327.6,562.2 326.6,567.3 325.6,570.0 324.6,573.7 323.6,576.7 322.6,576.2 321.6,572.1 320.6,571.4 319.6,570.7 318.6,570.1 317.6,569.4 316.6,571.8 315.6,571.8 314.6,572.4 313.6,573.8 312.6,574.9 311.6,576.1 310.6,577.3 309.6,575.3 308.6,576.7 307.6,577.6 306.6,578.0 305.6,580.5 304.6,580.8 303.6,581.0 302.6,581.3 301.6,579.6 300.6,579.9 299.6,580.1 298.6,580.4 297.6,580.6 296.6,583.8 295.6,584.4 294.6,585.1 293.6,585.7 292.6,586.4 291.6,587.0 290.6,587.7 289.6,586.7 288.6,587.3 287.6,588.0 286.6,586.3 285.6,587.0 284.6,593.0 283.6,600.3 282.6,606.0 281.6,604.2 280.6,603.0 279.6,601.8 278.6,600.6 277.6,599.5 276.6,596.4 275.6,596.0 274.6,595.5 273.6,594.9 272.6,594.3 271.6,594.7 270.6,594.2 269.6,593.6 268.6,592.9 267.6,591.8 266.6,590.3 265.6,588.9 264.6,587.6 263.6,586.3 262.6,583.6 261.6,582.3 260.6,581.0 259.6,579.9 258.6,578.9 257.6,578.7 256.6,578.4 255.6,578.0 254.6,577.5 253.6,577.1 252.6,578.2 251.6,577.8 250.6,576.9 249.6,574.5 248.6,568.3 247.6,563.7 246.6,558.4 245.6,553.0 244.6,550.0 243.6,547.8 242.6,544.6 241.6,541.4 240.6,536.3 239.6,533.4 238.6,531.0 237.6,528.0 236.6,525.8 235.6,523.5 234.6,522.4 233.6,521.8 232.6,523.8 231.6,525.0 230.6,527.4 229.6,521.7 228.6,513.1 227.6,504.4 226.6,495.7 225.6,494.4 224.6,497.1 223.6,498.5 222.6,500.1 221.6,502.1 220.6,504.7 219.6,507.7 218.6,510.7 217.6,513.7 216.6,516.7 215.6,519.7 214.6,523.3 213.6,526.2 212.6,528.8 211.6,532.5 210.6,534.8 209.6,537.1 208.6,539.5 207.6,539.1 206.6,541.7 205.6,543.8 204.6,545.8 203.6,547.7 202.6,550.1 201.6,552.0 200.6,553.8 199.6,555.2 198.6,556.6 197.6,559.5 196.6,563.1 195.6,567.1 194.6,571.8 193.6,577.4 192.6,580.3 191.6,581.6 190.6,583.3 189.6,583.7 188.6,584.2 187.6,582.7 186.6,583.1 185.6,583.5 184.6,582.7 183.6,583.7 182.6,588.6 181.6,592.9 180.6,597.1 179.6,605.6 178.6,607.9 177.6,601.7 176.6,599.6"/><polyline points="176.6,581.7 177.1,599.6 177.6,568.7 178.1,601.7 178.6,564.3 179.1,607.9 179.6,559.9 180.1,605.6 180.6,559.4 181.1,597.1 181.6,558.9 182.1,592.9 182.6,561.2 183.1,588.6 183.6,560.7 184.1,583.7 184.6,560.4 185.1,582.7 185.6,560.0 186.1,583.5 186.6,558.1 187.1,583.1 187.6,557.7 188.1,582.7 188.6,557.3 189.1,584.2 189.6,557.6 190.1,583.7 190.6,559.7 191.1,583.3 191.6,554.3 192.1,581.6 192.6,548.0 193.1,580.3 193.6,541.7 194.1,577.4 194.6,535.3 195.1,571.8 195.6,531.7 196.1,567.1 196.6,529.7 197.1,563.1 197.6,528.3 198.1,559.5 198.6,526.9 199.1,556.6 199.6,525.5 200.1,555.2 200.6,524.2 201.1,553.8 201.6,523.8 202.1,552.0 202.6,522.1 203.1,550.1 203.6,520.3 204.1,547.7 204.6,518.5 205.1,545.8 205.6,516.6 206.1,543.8 206.6,513.8 207.1,541.7 207.6,511.9 208.1,539.1 208.6,510.3 209.1,539.5 209.6,508.4 210.1,537.1 210.6,506.2 211.1,534.8 211.6,503.9 212.1,532.5 212.6,503.3 213.1,528.8 213.6,500.9 214.1,526.2 214.6,498.6 215.1,523.3 215.6,495.9 216.1,519.7 216.6,493.6 217.1,516.7 217.6,491.3 218.1,513.7 218.6,489.0 219.1,510.7 219.6,486.7 220.1,507.7 220.6,483.2 221.1,504.7 221.6,481.2 222.1,502.1 222.6,478.9 223.1,500.1 223.6,476.3 224.1,498.5 224.6,473.5 225.1,497.1 225.6,469.6 226.1,494.4 226.6,467.6 227.1,495.7 227.6,476.4 228.1,504.4 228.6,484.4 229.1,513.1 229.6,492.3 230.1,521.7 230.6,496.6 231.1,527.4 231.6,499.3 232.1,525.0 232.6,502.1 233.1,523.8 233.6,504.4 234.1,521.8 234.6,505.4 235.1,522.4 235.6,506.4 236.1,523.5 236.6,506.3 237.1,525.8 237.6,507.7 238.1,528.0 238.6,509.1 239.1,531.0 239.6,511.5 240.1,533.4 240.6,515.8 241.1,536.3 241.6,521.1 242.1,541.4 242.6,525.6 243.1,544.6 243.6,530.1 244.1,547.8 244.6,535.7 245.1,550.0 245.6,539.9 246.1,553.0 246.6,542.2 247.1,558.4 247.6,545.3 248.1,563.7 248.6,548.3 249.1,568.3 249.6,550.9 250.1,574.5 250.6,552.9 251.1,576.9 251.6,552.7 252.1,577.8 252.6,552.7 253.1,578.2 253.6,553.1 254.1,577.1 254.6,553.5 255.1,577.5 255.6,552.2 256.1,578.0 256.6,552.6 257.1,578.4 257.6,552.9 258.1,578.7 258.6,553.3 259.1,578.9 259.6,552.6 260.1,579.9 260.6,553.0 261.1,581.0 261.6,553.3 262.1,582.3 262.6,553.6 263.1,583.6 263.6,554.3 264.1,586.3 264.6,555.7 265.1,587.6 265.6,559.3 266.1,588.9 266.6,564.8 267.1,590.3 267.6,568.9 268.1,591.8 268.6,571.7 269.1,592.9 269.6,572.9 270.1,593.6 270.6,574.1 271.1,594.2 271.6,575.3 272.1,594.7 272.6,576.5 273.1,594.3 273.6,577.6 274.1,594.9 274.6,578.8 275.1,595.5 275.6,579.8 276.1,596.0 276.6,580.7 277.1,596.4 277.6,580.5 278.1,599.5 278.6,580.2 279.1,600.6 279.6,579.7 280.1,601.8 280.6,579.2 281.1,603.0 281.6,579.3 282.1,604.2 282.6,578.8 283.1,606.0 283.6,578.4 284.1,600.3 284.6,578.4 285.1,593.0 285.6,577.1 286.1,587.0 286.6,575.4 287.1,586.3 287.6,572.1 288.1,588.0 288.6,570.1 289.1,587.3 289.6,568.1 290.1,586.7 290.6,564.9 291.1,587.7 291.6,562.5 292.1,587.0 292.6,560.0 293.1,586.4 293.6,559.2 294.1,585.7 294.6,558.7 295.1,585.1 295.6,558.3 296.1,584.4 296.6,558.0 297.1,583.8 297.6,558.8 298.1,580.6 298.6,558.4 299.1,580.4 299.6,558.2 300.1,580.1 300.6,557.1 301.1,579.9 301.6,556.3 302.1,579.6 302.6,555.3 303.1,581.3 303.6,554.3 304.1,581.0 304.6,553.2 305.1,580.8 305.6,552.2 306.1,580.5 306.6,551.2 307.1,578.0 307.6,550.5 308.1,577.6 308.6,549.4 309.1,576.7 309.6,548.0 310.1,575.3 310.6,547.6 311.1,577.3 311.6,545.8 312.1,576.1 312.6,543.6 313.1,574.9 313.6,540.8 314.1,573.8 314.6,540.7 315.1,572.4 315.6,540.8 316.1,571.8 316.6,541.0 317.1,571.8 317.6,541.2 318.1,569.4 318.6,540.9 319.1,570.1 319.6,541.1 320.1,570.7 320.6,541.6 321.1,571.4 321.6,541.8 322.1,572.1 322.6,540.0 323.1,576.2 323.6,540.0 324.1,576.7 324.6,536.7 325.1,573.7 325.6,532.7 326.1,570.0 326.6,528.6 327.1,567.3 327.6,527.3 328.1,562.2 328.6,526.9 329.1,559.6 329.6,524.4 330.1,556.9 330.6,524.2 331.1,554.5 331.6,523.9 332.1,552.2 332.6,523.7 333.1,551.5 333.6,524.9 334.1,550.6 334.6,524.6 335.1,549.5 335.6,524.4 336.1,548.3 336.6,524.3 337.1,549.1 337.6,524.5 338.1,547.9 338.6,523.5 339.1,546.8 339.6,522.4 340.1,545.6 340.6,521.2 341.1,544.4 341.6,520.0 342.1,541.2 342.6,518.9 343.1,540.0 343.6,516.8 344.1,538.8 344.6,515.5 345.1,537.7 345.6,514.5 346.1,536.5 346.6,513.6 347.1,536.8 347.6,510.1 348.1,536.3 348.6,509.3 349.1,536.8 349.6,508.4 350.1,537.2 350.6,508.4 351.1,537.1 351.6,507.5 352.1,537.7 352.6,506.7 353.1,537.0 353.6,505.8 354.1,531.8 354.6,505.9 355.1,527.5 355.6,504.9 356.1,524.0 356.6,503.4 357.1,519.8 357.6,501.4 358.1,517.5 358.6,499.4 359.1,517.4 359.6,497.4 360.1,517.4 360.6,495.1 361.1,516.7 361.6,493.1 362.1,516.1 362.6,491.1 363.1,518.1 363.6,489.2 364.1,517.5 364.6,486.0 365.1,516.9" fill="none" stroke="#000" stroke-width="4.6" stroke-linejoin="round" stroke-linecap="round"/>
<polyline points="366.3,517 366.0,300 367.4,193 368.6,260 372.3,340 376.5,385 380,396" fill="none" stroke="#000" stroke-width="3.8" stroke-linejoin="round" stroke-linecap="round"/>
<polygon points="364.4,517 364.4,300 366.2,194 368.6,194 371.5,300 376,360 380,392 380,400 373,400 369.3,420 368.6,517"/>
<polygon points="371.9,392.0 372.9,392.7 373.9,393.3 374.9,393.9 375.9,394.5 376.9,395.2 377.9,395.3 378.9,396.0 379.9,396.7 380.9,397.4 381.9,398.2 382.9,398.9 383.9,399.2 384.9,399.9 385.9,400.5 386.9,401.0 387.9,402.2 388.9,402.7 389.9,403.2 390.9,403.7 391.9,404.1 392.9,404.5 393.9,403.2 394.9,403.4 395.9,403.6 396.9,403.7 397.9,403.9 398.9,404.0 399.9,404.0 400.9,403.0 401.9,401.9 402.9,405.0 403.9,407.0 404.9,408.5 405.9,409.6 406.9,409.9 407.9,409.8 408.9,410.0 409.9,410.3 410.9,410.5 411.9,410.6 412.9,410.8 413.9,410.9 414.9,411.5 415.9,411.7 416.9,411.9 417.9,412.1 418.9,412.2 419.9,411.1 420.9,411.3 420.9,429.9 419.9,430.7 418.9,430.6 417.9,430.6 416.9,430.5 415.9,428.8 414.9,428.8 413.9,428.7 412.9,428.6 411.9,430.6 410.9,430.4 409.9,429.9 408.9,429.5 407.9,429.1 406.9,428.7 405.9,426.5 404.9,426.2 403.9,425.9 402.9,425.8 401.9,425.7 400.9,425.6 399.9,425.5 398.9,425.3 397.9,425.2 396.9,424.8 395.9,424.6 394.9,424.1 393.9,422.5 392.9,421.1 391.9,421.1 390.9,420.3 389.9,420.0 388.9,420.3 387.9,419.6 386.9,419.8 385.9,420.0 384.9,419.8 383.9,417.4 382.9,414.2 381.9,412.1 380.9,410.2 379.9,408.8 378.9,407.3 377.9,406.0 376.9,405.5 375.9,405.8 374.9,405.2 373.9,404.6 372.9,404.1 371.9,403.6"/><polyline points="371.9,392.0 372.4,403.6 372.9,392.7 373.4,404.1 373.9,393.3 374.4,404.6 374.9,393.9 375.4,405.2 375.9,394.5 376.4,405.8 376.9,395.2 377.4,405.5 377.9,395.3 378.4,406.0 378.9,396.0 379.4,407.3 379.9,396.7 380.4,408.8 380.9,397.4 381.4,410.2 381.9,398.2 382.4,412.1 382.9,398.9 383.4,414.2 383.9,399.2 384.4,417.4 384.9,399.9 385.4,419.8 385.9,400.5 386.4,420.0 386.9,401.0 387.4,419.8 387.9,402.2 388.4,419.6 388.9,402.7 389.4,420.3 389.9,403.2 390.4,420.0 390.9,403.7 391.4,420.3 391.9,404.1 392.4,421.1 392.9,404.5 393.4,421.1 393.9,403.2 394.4,422.5 394.9,403.4 395.4,424.1 395.9,403.6 396.4,424.6 396.9,403.7 397.4,424.8 397.9,403.9 398.4,425.2 398.9,404.0 399.4,425.3 399.9,404.0 400.4,425.5 400.9,403.0 401.4,425.6 401.9,401.9 402.4,425.7 402.9,405.0 403.4,425.8 403.9,407.0 404.4,425.9 404.9,408.5 405.4,426.2 405.9,409.6 406.4,426.5 406.9,409.9 407.4,428.7 407.9,409.8 408.4,429.1 408.9,410.0 409.4,429.5 409.9,410.3 410.4,429.9 410.9,410.5 411.4,430.4 411.9,410.6 412.4,430.6 412.9,410.8 413.4,428.6 413.9,410.9 414.4,428.7 414.9,411.5 415.4,428.8 415.9,411.7 416.4,428.8 416.9,411.9 417.4,430.5 417.9,412.1 418.4,430.6 418.9,412.2 419.4,430.6 419.9,411.1 420.4,430.7 420.9,411.3 421.4,429.9" fill="none" stroke="#000" stroke-width="4.6" stroke-linejoin="round" stroke-linecap="round"/>
<polyline points="422.5,420 424.5,455 428,505 431.5,538 434.5,530 438,505 442,482 445,470" fill="none" stroke="#000" stroke-width="7" stroke-linejoin="round" stroke-linecap="round"/>
<polygon points="438.4,494.5 439.4,492.1 440.4,488.2 441.4,483.1 442.4,479.7 443.4,477.3 444.4,475.0 445.4,473.3 446.4,477.7 447.4,480.4 448.4,482.2 449.4,483.8 450.4,484.8 451.4,483.6 452.4,484.8 453.4,486.2 454.4,487.9 455.4,490.9 456.4,491.8 457.4,492.7 458.4,491.7 459.4,490.4 460.4,488.5 461.4,486.4 462.4,484.4 463.4,482.4 464.4,480.0 465.4,478.8 466.4,478.3 467.4,478.3 468.4,480.3 469.4,485.3 470.4,491.0 471.4,503.1 472.4,502.6 473.4,500.6 474.4,499.1 475.4,497.4 476.4,495.5 477.4,493.1 478.4,490.9 479.4,490.7 480.4,490.2 481.4,489.9 482.4,489.9 483.4,489.7 484.4,488.0 485.4,485.5 486.4,484.9 487.4,484.8 488.4,483.0 489.4,483.0 490.4,483.0 491.4,483.0 492.4,483.0 493.4,482.6 494.4,482.2 495.4,481.7 496.4,482.0 497.4,482.0 498.4,481.1 499.4,480.2 500.4,478.2 501.4,476.2 502.4,474.3 503.4,472.6 504.4,468.9 505.4,466.3 506.4,463.6 507.4,460.8 508.4,458.1 509.4,455.3 510.4,454.7 511.4,451.9 512.4,449.1 513.4,446.4 514.4,443.5 515.4,441.0 516.4,438.5 517.4,434.9 518.4,432.4 519.4,429.9 520.4,427.4 521.4,424.8 522.4,422.0 523.4,419.7 524.4,417.6 525.4,415.4 526.4,413.3 527.4,411.5 528.4,409.4 529.4,407.2 530.4,405.3 531.4,403.2 532.4,401.1 533.4,400.1 534.4,398.0 535.4,395.9 536.4,391.9 537.4,389.8 538.4,387.7 539.4,384.8 540.4,381.9 540.4,396.4 539.4,397.7 538.4,399.5 537.4,401.6 536.4,403.2 535.4,405.3 534.4,407.4 533.4,409.6 532.4,411.7 531.4,415.4 530.4,417.6 529.4,419.8 528.4,422.1 527.4,424.3 526.4,427.4 525.4,429.6 524.4,431.9 523.4,434.1 522.4,436.4 521.4,437.8 520.4,440.1 519.4,442.3 518.4,444.6 517.4,446.4 516.4,448.7 515.4,450.9 514.4,453.2 513.4,455.3 512.4,457.6 511.4,458.7 510.4,461.2 509.4,463.7 508.4,466.2 507.4,469.3 506.4,471.8 505.4,474.3 504.4,477.0 503.4,479.6 502.4,481.4 501.4,483.4 500.4,485.4 499.4,489.1 498.4,491.1 497.4,493.0 496.4,493.4 495.4,495.6 494.4,498.0 493.4,500.9 492.4,502.6 491.4,503.7 490.4,504.6 489.4,504.9 488.4,505.0 487.4,507.1 486.4,511.2 485.4,515.3 484.4,512.6 483.4,510.4 482.4,509.9 481.4,510.5 480.4,510.9 479.4,511.2 478.4,511.2 477.4,512.2 476.4,513.7 475.4,515.0 474.4,516.9 473.4,518.7 472.4,523.2 471.4,519.2 470.4,510.9 469.4,504.2 468.4,503.6 467.4,504.1 466.4,503.5 465.4,504.3 464.4,504.1 463.4,505.6 462.4,507.1 461.4,509.2 460.4,510.8 459.4,512.4 458.4,514.4 457.4,516.0 456.4,515.4 455.4,514.3 454.4,513.3 453.4,513.5 452.4,511.8 451.4,510.3 450.4,507.8 449.4,506.1 448.4,504.0 447.4,501.8 446.4,499.8 445.4,498.2 444.4,497.3 443.4,498.3 442.4,500.0 441.4,503.5 440.4,509.2 439.4,514.9 438.4,521.9"/><polyline points="438.4,494.5 438.9,521.9 439.4,492.1 439.9,514.9 440.4,488.2 440.9,509.2 441.4,483.1 441.9,503.5 442.4,479.7 442.9,500.0 443.4,477.3 443.9,498.3 444.4,475.0 444.9,497.3 445.4,473.3 445.9,498.2 446.4,477.7 446.9,499.8 447.4,480.4 447.9,501.8 448.4,482.2 448.9,504.0 449.4,483.8 449.9,506.1 450.4,484.8 450.9,507.8 451.4,483.6 451.9,510.3 452.4,484.8 452.9,511.8 453.4,486.2 453.9,513.5 454.4,487.9 454.9,513.3 455.4,490.9 455.9,514.3 456.4,491.8 456.9,515.4 457.4,492.7 457.9,516.0 458.4,491.7 458.9,514.4 459.4,490.4 459.9,512.4 460.4,488.5 460.9,510.8 461.4,486.4 461.9,509.2 462.4,484.4 462.9,507.1 463.4,482.4 463.9,505.6 464.4,480.0 464.9,504.1 465.4,478.8 465.9,504.3 466.4,478.3 466.9,503.5 467.4,478.3 467.9,504.1 468.4,480.3 468.9,503.6 469.4,485.3 469.9,504.2 470.4,491.0 470.9,510.9 471.4,503.1 471.9,519.2 472.4,502.6 472.9,523.2 473.4,500.6 473.9,518.7 474.4,499.1 474.9,516.9 475.4,497.4 475.9,515.0 476.4,495.5 476.9,513.7 477.4,493.1 477.9,512.2 478.4,490.9 478.9,511.2 479.4,490.7 479.9,511.2 480.4,490.2 480.9,510.9 481.4,489.9 481.9,510.5 482.4,489.9 482.9,509.9 483.4,489.7 483.9,510.4 484.4,488.0 484.9,512.6 485.4,485.5 485.9,515.3 486.4,484.9 486.9,511.2 487.4,484.8 487.9,507.1 488.4,483.0 488.9,505.0 489.4,483.0 489.9,504.9 490.4,483.0 490.9,504.6 491.4,483.0 491.9,503.7 492.4,483.0 492.9,502.6 493.4,482.6 493.9,500.9 494.4,482.2 494.9,498.0 495.4,481.7 495.9,495.6 496.4,482.0 496.9,493.4 497.4,482.0 497.9,493.0 498.4,481.1 498.9,491.1 499.4,480.2 499.9,489.1 500.4,478.2 500.9,485.4 501.4,476.2 501.9,483.4 502.4,474.3 502.9,481.4 503.4,472.6 503.9,479.6 504.4,468.9 504.9,477.0 505.4,466.3 505.9,474.3 506.4,463.6 506.9,471.8 507.4,460.8 507.9,469.3 508.4,458.1 508.9,466.2 509.4,455.3 509.9,463.7 510.4,454.7 510.9,461.2 511.4,451.9 511.9,458.7 512.4,449.1 512.9,457.6 513.4,446.4 513.9,455.3 514.4,443.5 514.9,453.2 515.4,441.0 515.9,450.9 516.4,438.5 516.9,448.7 517.4,434.9 517.9,446.4 518.4,432.4 518.9,444.6 519.4,429.9 519.9,442.3 520.4,427.4 520.9,440.1 521.4,424.8 521.9,437.8 522.4,422.0 522.9,436.4 523.4,419.7 523.9,434.1 524.4,417.6 524.9,431.9 525.4,415.4 525.9,429.6 526.4,413.3 526.9,427.4 527.4,411.5 527.9,424.3 528.4,409.4 528.9,422.1 529.4,407.2 529.9,419.8 530.4,405.3 530.9,417.6 531.4,403.2 531.9,415.4 532.4,401.1 532.9,411.7 533.4,400.1 533.9,409.6 534.4,398.0 534.9,407.4 535.4,395.9 535.9,405.3 536.4,391.9 536.9,403.2 537.4,389.8 537.9,401.6 538.4,387.7 538.9,399.5 539.4,384.8 539.9,397.7 540.4,381.9 540.9,396.4" fill="none" stroke="#000" stroke-width="4.6" stroke-linejoin="round" stroke-linecap="round"/>
<polyline points="470.2,520 470.8,584" fill="none" stroke="#000" stroke-width="3.6" stroke-linecap="round"/>
<polygon points="531.7,412.0 532.3,408.0 535.3,404.0 535.5,399.6 535.1,395.1 536.4,390.6 538.0,386.2 538.5,381.8 539.3,377.3 540.0,372.8 539.7,368.4 542.1,363.4 541.9,358.5 543.4,353.5 547.4,349.0 548.7,344.2 550.1,339.5 551.4,334.8 552.4,330.0 555.8,325.5 556.3,321.3 557.7,317.2 558.1,313.0 557.9,308.8 559.0,304.7 560.2,300.5 560.0,296.1 561.3,291.8 561.5,287.4 561.5,283.1 561.4,278.8 561.5,274.4 563.1,270.0 562.5,265.7 564.2,261.4 564.4,257.0 564.1,252.7 565.0,248.3 565.5,244.0 566.9,239.6 566.6,235.2 567.8,230.9 567.1,226.5 567.6,222.2 568.2,217.8 568.5,213.5 568.4,209.1 569.0,204.8 568.7,200.4 569.4,196.1 570.3,191.8 571.0,187.4 571.7,183.1 571.1,178.7 571.2,174.3 572.5,170.0 572.9,165.8 572.7,161.6 573.2,157.4 572.8,153.1 573.5,148.9 573.6,144.7 573.9,140.5 573.7,136.3 572.6,132.1 573.4,127.9 574.4,123.6 574.1,119.4 574.4,115.2 573.3,111.0 574.8,106.9 574.5,102.9 573.8,98.8 574.3,94.7 574.5,90.6 574.5,86.6 576.1,82.5 575.1,78.4 575.8,74.4 575.8,70.3 575.0,66.2 575.5,62.1 575.7,58.1 575.3,54.0 582.0,54.0 582.8,58.1 583.0,62.1 581.7,66.2 582.5,70.3 582.6,74.4 581.9,78.4 581.8,82.5 582.1,86.6 581.9,90.6 580.6,94.7 581.7,98.8 581.4,102.9 580.9,106.9 581.3,111.0 580.6,115.2 580.7,119.4 580.5,123.6 579.5,127.9 579.4,132.1 579.5,136.3 580.1,140.5 579.8,144.7 580.1,148.9 579.4,153.1 578.6,157.4 579.5,161.6 579.6,165.8 578.0,170.0 578.8,174.3 578.9,178.7 577.5,183.1 577.7,187.4 577.3,191.8 576.7,196.1 575.8,200.4 575.0,204.8 574.7,209.1 574.2,213.5 574.2,217.8 574.4,222.2 573.1,226.5 573.2,230.9 572.6,235.2 573.5,239.6 571.9,244.0 571.3,248.3 571.3,252.7 570.9,257.0 571.7,261.4 569.9,265.7 569.9,270.0 569.3,274.4 569.0,278.8 569.3,283.1 569.6,287.4 568.7,291.8 569.0,296.1 568.3,300.5 568.1,304.7 568.4,308.8 568.3,313.0 566.6,317.2 567.3,321.3 566.1,325.5 562.7,330.0 561.8,334.8 561.0,339.5 558.9,344.2 557.2,349.0 553.2,353.5 552.6,358.5 550.9,363.4 550.1,368.4 549.2,372.8 547.8,377.3 547.2,381.8 547.5,386.2 545.8,390.6 546.2,395.1 544.4,399.6 544.6,404.0 542.1,408.0 541.6,412.0" stroke="#000" stroke-width="1" stroke-linejoin="round"/>
<polygon points="576.6,54 588,54 588,175 577.6,175 576.2,130"/>
<rect x="583" y="54" width="5.8" height="577"/>
<rect x="616.3" y="54" width="6" height="300"/>
<rect x="621" y="165" width="5.3" height="190"/>
<rect x="634.4" y="54" width="82.3" height="577"/>
<rect x="616.3" y="348" width="20" height="283"/>
<rect x="633.0" y="350" width="1.0" height="67" fill="#b0b0b0"/>
<rect x="626.0" y="348" width="0.8" height="38" fill="#7a7a7a"/>
<rect x="626.0" y="386" width="0.8" height="221" fill="#484848"/></g></g>
<g clip-path="url(#cb)">
<path d="M135.4,1298.1 L142.0,1309.3 L128.8,1309.3Z" fill="#7216c6"/><path d="M207.1,1164.1 L213.7,1175.3 L200.5,1175.3Z" fill="#7216c6"/><path d="M278.7,1249.1 L285.3,1260.3 L272.1,1260.3Z" fill="#7216c6"/><path d="M350.4,1254.6 L357.0,1265.8 L343.8,1265.8Z" fill="#7216c6"/><path d="M422.0,1185.6 L428.6,1196.8 L415.4,1196.8Z" fill="#7216c6"/><path d="M493.6,881.6 L500.2,892.8 L487.0,892.8Z" fill="#7216c6"/><path d="M565.3,1338.6 L571.9,1349.8 L558.7,1349.8Z" fill="#7216c6"/><path d="M636.9,1339.1 L643.5,1350.3 L630.3,1350.3Z" fill="#7216c6"/><path d="M708.6,1339.1 L715.2,1350.3 L702.0,1350.3Z" fill="#7216c6"/><path d="M780.2,1339.1 L786.8,1350.3 L773.6,1350.3Z" fill="#7216c6"/>
</g>
<rect x="438" y="1150" width="182" height="71" fill="#fff"/>
<polygon points="422.6,1168.0 425.3,1175.8 433.5,1175.9 427.0,1180.9 429.4,1188.8 422.6,1184.1 415.8,1188.8 418.2,1180.9 411.7,1175.9 419.9,1175.8" fill="#1f78d8"/>
<path d="M422.6,1186.6 L429.2,1197.8 L416.0,1197.8Z" fill="#7216c6"/>
<text x="530" y="1179.6" text-anchor="middle" class="an">121% SOC</text>
<text x="529.5" y="1208" text-anchor="middle" class="an">failure marker</text>
<rect x="123.5" y="834.0" width="716.5" height="577.0" fill="none" stroke="#000" stroke-width="2"/>
<line x1="123.5" y1="1411.0" x2="134.0" y2="1411.0" stroke="#000" stroke-width="2"/>
<line x1="123.5" y1="1353.3" x2="129.0" y2="1353.3" stroke="#000" stroke-width="2"/>
<line x1="123.5" y1="1295.6" x2="134.0" y2="1295.6" stroke="#000" stroke-width="2"/>
<line x1="123.5" y1="1237.9" x2="129.0" y2="1237.9" stroke="#000" stroke-width="2"/>
<line x1="123.5" y1="1180.2" x2="134.0" y2="1180.2" stroke="#000" stroke-width="2"/>
<line x1="123.5" y1="1122.5" x2="129.0" y2="1122.5" stroke="#000" stroke-width="2"/>
<line x1="123.5" y1="1064.8" x2="134.0" y2="1064.8" stroke="#000" stroke-width="2"/>
<line x1="123.5" y1="1007.1" x2="129.0" y2="1007.1" stroke="#000" stroke-width="2"/>
<line x1="123.5" y1="949.4" x2="134.0" y2="949.4" stroke="#000" stroke-width="2"/>
<line x1="123.5" y1="891.7" x2="129.0" y2="891.7" stroke="#000" stroke-width="2"/>
<line x1="123.5" y1="834.0" x2="134.0" y2="834.0" stroke="#000" stroke-width="2"/>
<line x1="123.5" y1="1411.0" x2="123.5" y2="1400.5" stroke="#000" stroke-width="2"/>
<line x1="183.2" y1="1411.0" x2="183.2" y2="1405.5" stroke="#000" stroke-width="2"/>
<line x1="242.9" y1="1411.0" x2="242.9" y2="1400.5" stroke="#000" stroke-width="2"/>
<line x1="302.6" y1="1411.0" x2="302.6" y2="1405.5" stroke="#000" stroke-width="2"/>
<line x1="362.3" y1="1411.0" x2="362.3" y2="1400.5" stroke="#000" stroke-width="2"/>
<line x1="422.0" y1="1411.0" x2="422.0" y2="1405.5" stroke="#000" stroke-width="2"/>
<line x1="481.7" y1="1411.0" x2="481.7" y2="1400.5" stroke="#000" stroke-width="2"/>
<line x1="541.4" y1="1411.0" x2="541.4" y2="1405.5" stroke="#000" stroke-width="2"/>
<line x1="601.1" y1="1411.0" x2="601.1" y2="1400.5" stroke="#000" stroke-width="2"/>
<line x1="660.8" y1="1411.0" x2="660.8" y2="1405.5" stroke="#000" stroke-width="2"/>
<line x1="720.5" y1="1411.0" x2="720.5" y2="1400.5" stroke="#000" stroke-width="2"/>
<line x1="780.2" y1="1411.0" x2="780.2" y2="1405.5" stroke="#000" stroke-width="2"/>
<line x1="839.9" y1="1411.0" x2="839.9" y2="1400.5" stroke="#000" stroke-width="2"/>
<line x1="840.0" y1="1347.3" x2="829.5" y2="1347.3" stroke="#000" stroke-width="2"/>
<line x1="840.0" y1="1283.1" x2="834.5" y2="1283.1" stroke="#000" stroke-width="2"/>
<line x1="840.0" y1="1218.9" x2="829.5" y2="1218.9" stroke="#000" stroke-width="2"/>
<line x1="840.0" y1="1154.7" x2="834.5" y2="1154.7" stroke="#000" stroke-width="2"/>
<line x1="840.0" y1="1090.5" x2="829.5" y2="1090.5" stroke="#000" stroke-width="2"/>
<line x1="840.0" y1="1026.3" x2="834.5" y2="1026.3" stroke="#000" stroke-width="2"/>
<line x1="840.0" y1="962.1" x2="829.5" y2="962.1" stroke="#000" stroke-width="2"/>
<line x1="840.0" y1="897.9" x2="834.5" y2="897.9" stroke="#000" stroke-width="2"/>
<text x="111.0" y="1420.8" text-anchor="end" class="tk">0</text>
<text x="111.0" y="1305.4" text-anchor="end" class="tk">4</text>
<text x="111.0" y="1190.0" text-anchor="end" class="tk">8</text>
<text x="111.0" y="1074.6" text-anchor="end" class="tk">12</text>
<text x="111.0" y="959.2" text-anchor="end" class="tk">16</text>
<text x="111.0" y="843.8" text-anchor="end" class="tk">20</text>
<text x="123.5" y="1449.2" text-anchor="middle" class="tk">0</text>
<text x="242.9" y="1449.2" text-anchor="middle" class="tk">5</text>
<text x="362.3" y="1449.2" text-anchor="middle" class="tk">10</text>
<text x="481.7" y="1449.2" text-anchor="middle" class="tk">15</text>
<text x="601.1" y="1449.2" text-anchor="middle" class="tk">20</text>
<text x="720.5" y="1449.2" text-anchor="middle" class="tk">25</text>
<text x="839.9" y="1449.2" text-anchor="middle" class="tk">30</text>
<text x="852.3" y="1357.6" class="tk" fill="#7216c6">0.00</text>
<text x="852.3" y="1229.2" class="tk" fill="#7216c6">0.02</text>
<text x="852.3" y="1100.8" class="tk" fill="#7216c6">0.04</text>
<text x="852.3" y="972.4" class="tk" fill="#7216c6">0.06</text>
<text x="852.3" y="844.0" class="tk" fill="#7216c6">0.08</text>
<text x="75" y="808.8" class="ti" font-size="48" textLength="811" lengthAdjust="spacingAndGlyphs">Rapid EIS Response During OC (1S4P)</text>
<text x="129.8" y="882" class="pl">(b)</text>
<text transform="translate(40.2,1100.8) rotate(-90)" text-anchor="middle" class="al">Heating Rate, °C/min</text>
<text x="381.6" y="1516" class="al" textLength="199.2" lengthAdjust="spacingAndGlyphs">Time, min</text>
<g fill="#7216c6">
<text transform="translate(984,1419.5) rotate(-90)" class="al" fill="#7216c6">Impedance Magnitude</text>
<text transform="translate(984,943.5) rotate(-90)" class="al" fill="#7216c6">Z</text>
<text transform="translate(984,890) rotate(-90)" class="al" fill="#7216c6">,</text>
<text transform="translate(984,861) rotate(-90)" class="al" fill="#7216c6">Ω</text>
<text transform="translate(976,966.2) rotate(-90) scale(1,1.22)" class="al" font-size="58" fill="#7216c6">|</text>
<text transform="translate(976,905.3) rotate(-90) scale(1,1.22)" class="al" font-size="58" fill="#7216c6">|</text>
</g>
<!-- legend b -->
<rect x="561" y="840" width="272" height="71.6" fill="#fff" stroke="#8a8a8a" stroke-width="1.2"/>
<line x1="566.5" y1="858.6" x2="624.5" y2="858.6" stroke="#000" stroke-width="5" stroke-linecap="round"/>
<text x="633.8" y="867.5" class="lg" font-size="27" textLength="193" lengthAdjust="spacingAndGlyphs">Cell Heating Rate</text>
<line x1="564" y1="892.3" x2="626.7" y2="892.3" stroke="#8c8c8c" stroke-width="1.4"/>
<path d="M595.3,887.1 L600.8,896.6 L589.8,896.6Z" fill="#7216c6"/>
<text x="633.8" y="900.3" class="lg" font-size="27">0.1 Hz</text>
</svg>
</body></html>
